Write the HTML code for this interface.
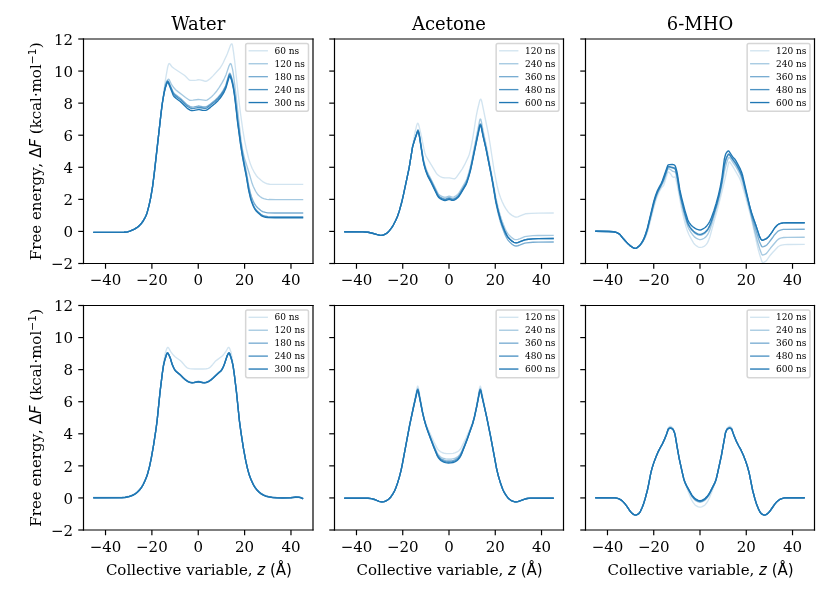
<!DOCTYPE html>
<html><head><meta charset="utf-8"><title>Free energy profiles</title>
<style>html,body{margin:0;padding:0;background:#fff;}svg{display:block;}</style>
</head><body>
<svg width="830" height="594" viewBox="0 0 553.333 396" version="1.1">
 
 <defs>
  <style type="text/css">*{stroke-linejoin: round; stroke-linecap: butt}</style>
 </defs>
 <g id="figure_1">
  <g id="patch_1">
   <path d="M 0 396 
L 553.333333 396 
L 553.333333 0 
L 0 0 
z
" style="fill: #ffffff"/>
  </g>
  <g id="axes_1">
   <g id="patch_2">
    <path d="M 55.666667 175.666667 
L 208.666667 175.666667 
L 208.666667 26 
L 55.666667 26 
z
" style="fill: #ffffff"/>
   </g>
   <g id="matplotlib.axis_1">
    <g id="xtick_1">
     <g id="line2d_1">
      <defs>
       <path id="m1504cfccaf" d="M 0 0 
L 0 3.5 
" style="stroke: #000000; stroke-width: 0.8"/>
      </defs>
      <g>
       <use href="#m1504cfccaf" x="70.348485" y="175.666667" style="stroke: #000000; stroke-width: 0.8"/>
      </g>
     </g>
     <g id="text_1">
      <text style="font-size: 10px; font-family: 'DejaVu Serif', serif; text-anchor: middle" x="70.348485" y="190.265104" transform="rotate(-0 70.348485 190.265104)">−40</text>
     </g>
    </g>
    <g id="xtick_2">
     <g id="line2d_2">
      <g>
       <use href="#m1504cfccaf" x="101.257576" y="175.666667" style="stroke: #000000; stroke-width: 0.8"/>
      </g>
     </g>
     <g id="text_2">
      <text style="font-size: 10px; font-family: 'DejaVu Serif', serif; text-anchor: middle" x="101.257576" y="190.265104" transform="rotate(-0 101.257576 190.265104)">−20</text>
     </g>
    </g>
    <g id="xtick_3">
     <g id="line2d_3">
      <g>
       <use href="#m1504cfccaf" x="132.166667" y="175.666667" style="stroke: #000000; stroke-width: 0.8"/>
      </g>
     </g>
     <g id="text_3">
      <text style="font-size: 10px; font-family: 'DejaVu Serif', serif; text-anchor: middle" x="132.166667" y="190.265104" transform="rotate(-0 132.166667 190.265104)">0</text>
     </g>
    </g>
    <g id="xtick_4">
     <g id="line2d_4">
      <g>
       <use href="#m1504cfccaf" x="163.075758" y="175.666667" style="stroke: #000000; stroke-width: 0.8"/>
      </g>
     </g>
     <g id="text_4">
      <text style="font-size: 10px; font-family: 'DejaVu Serif', serif; text-anchor: middle" x="163.075758" y="190.265104" transform="rotate(-0 163.075758 190.265104)">20</text>
     </g>
    </g>
    <g id="xtick_5">
     <g id="line2d_5">
      <g>
       <use href="#m1504cfccaf" x="193.984848" y="175.666667" style="stroke: #000000; stroke-width: 0.8"/>
      </g>
     </g>
     <g id="text_5">
      <text style="font-size: 10px; font-family: 'DejaVu Serif', serif; text-anchor: middle" x="193.984848" y="190.265104" transform="rotate(-0 193.984848 190.265104)">40</text>
     </g>
    </g>
   </g>
   <g id="matplotlib.axis_2">
    <g id="ytick_1">
     <g id="line2d_6">
      <defs>
       <path id="m5d545ce8f8" d="M 0 0 
L -3.5 0 
" style="stroke: #000000; stroke-width: 0.8"/>
      </defs>
      <g>
       <use href="#m5d545ce8f8" x="55.666667" y="175.666667" style="stroke: #000000; stroke-width: 0.8"/>
      </g>
     </g>
     <g id="text_6">
      <text style="font-size: 10px; font-family: 'DejaVu Serif', serif; text-anchor: end" x="48.666667" y="179.465885" transform="rotate(-0 48.666667 179.465885)">−2</text>
     </g>
    </g>
    <g id="ytick_2">
     <g id="line2d_7">
      <g>
       <use href="#m5d545ce8f8" x="55.666667" y="154.285714" style="stroke: #000000; stroke-width: 0.8"/>
      </g>
     </g>
     <g id="text_7">
      <text style="font-size: 10px; font-family: 'DejaVu Serif', serif; text-anchor: end" x="48.666667" y="158.084933" transform="rotate(-0 48.666667 158.084933)">0</text>
     </g>
    </g>
    <g id="ytick_3">
     <g id="line2d_8">
      <g>
       <use href="#m5d545ce8f8" x="55.666667" y="132.904762" style="stroke: #000000; stroke-width: 0.8"/>
      </g>
     </g>
     <g id="text_8">
      <text style="font-size: 10px; font-family: 'DejaVu Serif', serif; text-anchor: end" x="48.666667" y="136.703981" transform="rotate(-0 48.666667 136.703981)">2</text>
     </g>
    </g>
    <g id="ytick_4">
     <g id="line2d_9">
      <g>
       <use href="#m5d545ce8f8" x="55.666667" y="111.52381" style="stroke: #000000; stroke-width: 0.8"/>
      </g>
     </g>
     <g id="text_9">
      <text style="font-size: 10px; font-family: 'DejaVu Serif', serif; text-anchor: end" x="48.666667" y="115.323028" transform="rotate(-0 48.666667 115.323028)">4</text>
     </g>
    </g>
    <g id="ytick_5">
     <g id="line2d_10">
      <g>
       <use href="#m5d545ce8f8" x="55.666667" y="90.142857" style="stroke: #000000; stroke-width: 0.8"/>
      </g>
     </g>
     <g id="text_10">
      <text style="font-size: 10px; font-family: 'DejaVu Serif', serif; text-anchor: end" x="48.666667" y="93.942076" transform="rotate(-0 48.666667 93.942076)">6</text>
     </g>
    </g>
    <g id="ytick_6">
     <g id="line2d_11">
      <g>
       <use href="#m5d545ce8f8" x="55.666667" y="68.761905" style="stroke: #000000; stroke-width: 0.8"/>
      </g>
     </g>
     <g id="text_11">
      <text style="font-size: 10px; font-family: 'DejaVu Serif', serif; text-anchor: end" x="48.666667" y="72.561124" transform="rotate(-0 48.666667 72.561124)">8</text>
     </g>
    </g>
    <g id="ytick_7">
     <g id="line2d_12">
      <g>
       <use href="#m5d545ce8f8" x="55.666667" y="47.380952" style="stroke: #000000; stroke-width: 0.8"/>
      </g>
     </g>
     <g id="text_12">
      <text style="font-size: 10px; font-family: 'DejaVu Serif', serif; text-anchor: end" x="48.666667" y="51.180171" transform="rotate(-0 48.666667 51.180171)">10</text>
     </g>
    </g>
    <g id="ytick_8">
     <g id="line2d_13">
      <g>
       <use href="#m5d545ce8f8" x="55.666667" y="26" style="stroke: #000000; stroke-width: 0.8"/>
      </g>
     </g>
     <g id="text_13">
      <text style="font-size: 10px; font-family: 'DejaVu Serif', serif; text-anchor: end" x="48.666667" y="29.799219" transform="rotate(-0 48.666667 29.799219)">12</text>
     </g>
    </g>
    <g id="text_14">
     
     <g transform="translate(27.624479 173.433333) rotate(-90)">
      <text xml:space="preserve"><tspan x="0 6.938 11.719 17.637 23.555 26.733 32.651 39.092 45.01 49.79 56.191 61.841 65.02" y="-0.064063" style="font-size: 10px; font-family: 'DejaVu Serif', serif">Free energy, </tspan><tspan x="68.198" y="-0.064063" style="font-size: 10px; font-family: 'DejaVu Sans', sans-serif">Δ</tspan><tspan x="75.039" y="-0.064063" style="font-style: oblique; font-size: 10px; font-family: 'DejaVu Sans', sans-serif">F</tspan><tspan x="80.791 83.97 87.871 93.931 99.531 105.493" y="-0.064063" style="font-size: 10px; font-family: 'DejaVu Serif', serif"> (kcal</tspan><tspan x="108.691" y="-0.064063" style="font-size: 10px; font-family: 'DejaVu Sans', sans-serif">⋅</tspan><tspan x="111.87 121.353 127.373" y="-0.064063" style="font-size: 10px; font-family: 'DejaVu Serif', serif">mol</tspan><tspan x="130.667 136.532" y="-3.892188" style="font-size: 7px; font-family: 'DejaVu Sans', sans-serif">−1</tspan><tspan x="141.259" y="-0.064063" style="font-size: 10px; font-family: 'DejaVu Serif', serif">)</tspan></text>
     </g>
    </g>
   </g>
   <g id="line2d_14">
    <path d="M 62.621212 154.927143 
L 82.712121 154.846096 
L 85.030303 154.585223 
L 86.575758 154.082243 
L 89.666667 152.704985 
L 91.212121 151.781085 
L 92.757576 150.569904 
L 93.916667 149.366705 
L 95.075758 147.846963 
L 96.234848 145.969986 
L 97.393939 143.679801 
L 98.166667 141.461848 
L 99.325758 137.068708 
L 100.484848 131.784036 
L 101.643939 124.978594 
L 102.80303 115.955976 
L 105.121212 95.390537 
L 107.05303 78.639843 
L 110.143939 54.038081 
L 111.689394 45.18803 
L 112.075758 43.614864 
L 112.462121 42.622437 
L 112.848485 42.364097 
L 113.234848 42.602342 
L 114.007576 43.676119 
L 114.780303 44.708333 
L 116.325758 45.870653 
L 122.893939 50.160476 
L 123.666667 50.875036 
L 125.984848 53.244251 
L 126.757576 53.570986 
L 129.848485 53.581429 
L 131.007576 53.387638 
L 132.166667 53.158612 
L 133.325758 53.243223 
L 135.257576 53.665134 
L 136.80303 54.195355 
L 137.575758 54.147965 
L 138.348485 53.762122 
L 140.280303 52.291527 
L 141.825758 50.73423 
L 146.462121 45.67213 
L 147.621212 43.981809 
L 148.780303 41.817797 
L 151.484848 35.980766 
L 153.80303 29.906611 
L 154.189394 29.393515 
L 154.575758 29.207143 
L 154.962121 30.092293 
L 155.734848 35.043038 
L 156.507576 41.15511 
L 158.825758 63.294032 
L 160.371212 75.969893 
L 161.916667 86.947123 
L 163.075758 93.741513 
L 164.234848 99.311575 
L 165.780303 105.606315 
L 166.939394 109.385714 
L 168.098485 112.172347 
L 169.643939 115.149661 
L 170.80303 116.975952 
L 171.962121 118.287651 
L 173.893939 120.057662 
L 175.439394 121.277853 
L 176.984848 122.095012 
L 178.143939 122.490981 
L 179.689394 122.819177 
L 182.007576 122.945476 
L 187.030303 122.962619 
L 201.712121 122.962619 
L 201.712121 122.962619 
" clip-path="url(#p83b6f65d9d)" style="fill: none; stroke: #1f77b4; stroke-opacity: 0.2; stroke-width: 0.9; stroke-linecap: square"/>
   </g>
   <g id="line2d_15">
    <path d="M 62.621212 154.927143 
L 82.712121 154.846096 
L 85.030303 154.585223 
L 86.575758 154.082243 
L 89.666667 152.704985 
L 91.212121 151.781085 
L 92.757576 150.569904 
L 93.916667 149.366705 
L 95.075758 147.846963 
L 96.234848 145.969986 
L 97.393939 143.679801 
L 98.166667 141.461848 
L 99.325758 137.068708 
L 100.484848 131.784036 
L 101.643939 124.978594 
L 102.80303 115.955976 
L 105.121212 95.390537 
L 107.439394 75.05411 
L 108.598485 66.317952 
L 109.757576 58.599848 
L 110.143939 56.661487 
L 110.530303 55.39881 
L 111.30303 53.853093 
L 111.689394 53.284988 
L 112.075758 52.928356 
L 112.462121 52.844553 
L 112.848485 53.201792 
L 113.621212 54.832257 
L 114.393939 56.467857 
L 115.939394 58.552278 
L 117.098485 59.79195 
L 118.643939 61.070335 
L 121.348485 63.199342 
L 123.666667 65.020238 
L 126.371212 66.853045 
L 127.143939 66.94109 
L 128.689394 66.782285 
L 132.166667 66.304636 
L 133.325758 66.37587 
L 137.189394 66.942641 
L 137.962121 66.740037 
L 138.734848 66.284472 
L 141.05303 64.455729 
L 142.598485 62.923304 
L 144.530303 60.635 
L 146.075758 58.43942 
L 148.007576 55.290338 
L 149.55303 52.388375 
L 150.712121 49.765699 
L 152.643939 44.0232 
L 153.416667 42.618807 
L 153.80303 42.356429 
L 154.189394 42.913268 
L 154.962121 45.972473 
L 155.348485 47.926092 
L 156.121212 53.508311 
L 157.280303 63.171139 
L 160.757576 94.419048 
L 161.916667 101.009477 
L 163.075758 105.755707 
L 164.621212 110.703328 
L 166.166667 115.6907 
L 168.098485 122.388323 
L 168.871212 124.347184 
L 170.416667 127.506361 
L 171.575758 129.310753 
L 172.348485 130.168732 
L 173.507576 131.175956 
L 174.666667 131.929697 
L 175.825758 132.390115 
L 177.757576 132.888206 
L 179.30303 133.032046 
L 183.939394 133.118571 
L 201.712121 133.118571 
L 201.712121 133.118571 
" clip-path="url(#p83b6f65d9d)" style="fill: none; stroke: #1f77b4; stroke-opacity: 0.4; stroke-width: 0.9; stroke-linecap: square"/>
   </g>
   <g id="line2d_16">
    <path d="M 62.621212 154.927143 
L 82.712121 154.846096 
L 85.030303 154.585223 
L 86.575758 154.082243 
L 89.666667 152.704985 
L 91.212121 151.781085 
L 92.757576 150.569904 
L 93.916667 149.366705 
L 95.075758 147.846963 
L 96.234848 145.969986 
L 97.393939 143.679801 
L 98.166667 141.461848 
L 99.325758 137.068708 
L 100.484848 131.784036 
L 101.643939 124.978594 
L 102.80303 115.955976 
L 105.121212 95.390537 
L 107.439394 74.820139 
L 108.212121 68.83233 
L 109.371212 62.090828 
L 110.143939 58.558228 
L 111.30303 54.553908 
L 111.689394 53.955508 
L 112.075758 54.041919 
L 112.462121 54.669966 
L 115.55303 61.72559 
L 116.712121 62.912807 
L 118.643939 64.415646 
L 120.189394 65.463078 
L 121.734848 66.920983 
L 124.825758 69.930929 
L 126.757576 71.047977 
L 127.530303 71.338179 
L 128.30303 71.445704 
L 129.462121 71.28017 
L 132.166667 70.691276 
L 132.939394 70.763212 
L 134.871212 71.150352 
L 137.189394 71.252758 
L 137.962121 70.976538 
L 140.280303 69.290705 
L 143.371212 66.776412 
L 145.30303 64.941065 
L 146.848485 63.17681 
L 148.393939 60.98251 
L 149.55303 58.962961 
L 150.325758 57.308076 
L 150.712121 56.324082 
L 152.643939 49.626315 
L 153.030303 48.854719 
L 153.416667 48.954743 
L 154.189394 50.905023 
L 154.962121 53.786834 
L 155.734848 57.760032 
L 156.507576 62.91491 
L 157.280303 69.384505 
L 158.439394 79.734362 
L 160.371212 93.998179 
L 161.530303 101.173761 
L 163.075758 109.059346 
L 164.234848 114.697344 
L 165.780303 123.694383 
L 166.939394 128.753552 
L 167.712121 131.30119 
L 168.871212 134.281801 
L 169.643939 135.840033 
L 170.80303 137.471675 
L 171.962121 138.679462 
L 173.893939 140.352758 
L 175.05303 141.049339 
L 176.984848 141.626482 
L 178.530303 141.869142 
L 183.166667 141.97403 
L 194.757576 141.991667 
L 201.712121 141.991667 
L 201.712121 141.991667 
" clip-path="url(#p83b6f65d9d)" style="fill: none; stroke: #1f77b4; stroke-opacity: 0.6; stroke-width: 0.9; stroke-linecap: square"/>
   </g>
   <g id="line2d_17">
    <path d="M 62.621212 154.927143 
L 82.712121 154.846096 
L 85.030303 154.585223 
L 86.575758 154.082243 
L 89.666667 152.704985 
L 91.212121 151.781085 
L 92.757576 150.569904 
L 93.916667 149.366705 
L 95.075758 147.846963 
L 96.234848 145.969986 
L 97.393939 143.679801 
L 98.166667 141.461848 
L 99.325758 137.068708 
L 100.484848 131.784036 
L 101.643939 124.978594 
L 102.80303 115.955976 
L 105.121212 95.390537 
L 107.439394 74.820139 
L 108.212121 68.83233 
L 109.371212 62.105951 
L 110.143939 58.670023 
L 111.30303 54.855232 
L 111.689394 54.303723 
L 112.075758 54.438053 
L 112.462121 55.115844 
L 115.55303 62.526749 
L 116.712121 63.768045 
L 118.643939 65.297929 
L 120.575758 66.697052 
L 122.893939 69.003088 
L 124.439394 70.578403 
L 125.598485 71.35167 
L 127.143939 72.164345 
L 127.916667 72.373875 
L 128.689394 72.379407 
L 130.234848 72.052119 
L 132.55303 71.660552 
L 136.030303 72.168646 
L 137.189394 72.192056 
L 137.962121 71.909406 
L 140.280303 70.202168 
L 143.371212 67.65894 
L 145.30303 65.808408 
L 146.848485 64.035159 
L 148.393939 61.836601 
L 149.55303 59.822219 
L 150.325758 58.176755 
L 150.712121 57.199619 
L 152.643939 50.56237 
L 153.030303 49.808952 
L 153.416667 49.93068 
L 154.189394 51.947468 
L 154.962121 54.91836 
L 155.734848 58.991462 
L 156.507576 64.245315 
L 157.280303 70.801206 
L 158.439394 81.231028 
L 160.371212 95.698694 
L 161.530303 103.084425 
L 163.075758 111.273884 
L 164.234848 117.10829 
L 165.780303 126.252968 
L 166.939394 131.319266 
L 167.712121 133.866905 
L 168.871212 136.847516 
L 169.643939 138.405747 
L 170.80303 140.037389 
L 171.962121 141.245177 
L 173.893939 142.918473 
L 175.05303 143.615053 
L 176.984848 144.192197 
L 178.530303 144.434856 
L 183.166667 144.539744 
L 194.757576 144.557381 
L 201.712121 144.557381 
L 201.712121 144.557381 
" clip-path="url(#p83b6f65d9d)" style="fill: none; stroke: #1f77b4; stroke-opacity: 0.8; stroke-width: 0.9; stroke-linecap: square"/>
   </g>
   <g id="line2d_18">
    <path d="M 62.621212 154.927143 
L 82.712121 154.846096 
L 85.030303 154.585223 
L 86.575758 154.082243 
L 89.666667 152.704985 
L 91.212121 151.781085 
L 92.757576 150.569904 
L 93.916667 149.366705 
L 95.075758 147.846963 
L 96.234848 145.969986 
L 97.393939 143.679801 
L 98.166667 141.461848 
L 99.325758 137.068708 
L 100.484848 131.784036 
L 101.643939 124.978594 
L 102.80303 115.955976 
L 105.121212 95.390537 
L 107.439394 74.820139 
L 108.212121 68.83233 
L 109.371212 62.132055 
L 110.143939 58.861445 
L 111.30303 55.35984 
L 111.689394 54.879627 
L 112.075758 55.084949 
L 112.462121 55.83525 
L 115.55303 63.740598 
L 116.325758 64.673277 
L 117.484848 65.710601 
L 119.030303 66.866618 
L 120.189394 67.692857 
L 121.734848 69.182367 
L 124.825758 72.240109 
L 126.757576 73.377399 
L 127.530303 73.673775 
L 128.30303 73.786429 
L 129.462121 73.626703 
L 132.166667 73.043181 
L 132.939394 73.114172 
L 134.871212 73.491351 
L 137.189394 73.569781 
L 137.962121 73.283216 
L 140.280303 71.561096 
L 143.371212 68.991 
L 145.30303 67.119799 
L 146.848485 65.327968 
L 148.393939 63.105532 
L 149.55303 61.057751 
L 150.325758 59.383154 
L 150.712121 58.389773 
L 152.643939 51.659556 
L 153.030303 50.886083 
L 153.416667 50.986208 
L 154.189394 52.941179 
L 154.962121 55.832966 
L 155.734848 59.820741 
L 156.507576 64.994114 
L 157.280303 71.485438 
L 158.439394 81.872457 
L 160.371212 96.340122 
L 161.530303 103.725854 
L 163.075758 111.915312 
L 164.234848 117.749718 
L 165.780303 126.894397 
L 166.939394 131.960695 
L 167.712121 134.508333 
L 168.871212 137.488944 
L 169.643939 139.047176 
L 170.80303 140.678818 
L 171.962121 141.886605 
L 173.893939 143.559901 
L 175.05303 144.256482 
L 176.984848 144.833625 
L 178.530303 145.076285 
L 183.166667 145.181173 
L 194.757576 145.19881 
L 201.712121 145.19881 
L 201.712121 145.19881 
" clip-path="url(#p83b6f65d9d)" style="fill: none; stroke: #1f77b4; stroke-width: 0.9; stroke-linecap: square"/>
   </g>
   <g id="patch_3">
    <path d="M 55.666667 175.666667 
L 55.666667 26 
" style="fill: none; stroke: #000000; stroke-width: 0.8; stroke-linejoin: miter; stroke-linecap: square"/>
   </g>
   <g id="patch_4">
    <path d="M 208.666667 175.666667 
L 208.666667 26 
" style="fill: none; stroke: #000000; stroke-width: 0.8; stroke-linejoin: miter; stroke-linecap: square"/>
   </g>
   <g id="patch_5">
    <path d="M 55.666667 175.666667 
L 208.666667 175.666667 
" style="fill: none; stroke: #000000; stroke-width: 0.8; stroke-linejoin: miter; stroke-linecap: square"/>
   </g>
   <g id="patch_6">
    <path d="M 55.666667 26 
L 208.666667 26 
" style="fill: none; stroke: #000000; stroke-width: 0.8; stroke-linejoin: miter; stroke-linecap: square"/>
   </g>
   <g id="text_15">
    <text style="font-size: 12px; font-family: 'DejaVu Serif', serif; text-anchor: middle" x="132.166667" y="20" transform="rotate(-0 132.166667 20)">Water</text>
   </g>
   <g id="legend_1">
    <g id="patch_7">
     <path d="M 164.964167 74.114375 
L 204.466667 74.114375 
Q 205.666667 74.114375 205.666667 72.914375 
L 205.666667 30.2 
Q 205.666667 29 204.466667 29 
L 164.964167 29 
Q 163.764167 29 163.764167 30.2 
L 163.764167 72.914375 
Q 163.764167 74.114375 164.964167 74.114375 
z
" style="fill: #ffffff; opacity: 0.8; stroke: #cccccc; stroke-linejoin: miter"/>
    </g>
    <g id="line2d_19">
     <path d="M 166.164167 33.859063 
L 172.164167 33.859063 
L 178.164167 33.859063 
" style="fill: none; stroke: #1f77b4; stroke-opacity: 0.2; stroke-width: 0.9; stroke-linecap: square"/>
    </g>
    <g id="text_16">
     <text style="font-size: 6px; font-family: 'DejaVu Serif', serif; text-anchor: start" x="182.964167" y="35.959063" transform="rotate(-0 182.964167 35.959063)">60 ns</text>
    </g>
    <g id="line2d_20">
     <path d="M 166.164167 42.485937 
L 172.164167 42.485937 
L 178.164167 42.485937 
" style="fill: none; stroke: #1f77b4; stroke-opacity: 0.4; stroke-width: 0.9; stroke-linecap: square"/>
    </g>
    <g id="text_17">
     <text style="font-size: 6px; font-family: 'DejaVu Serif', serif; text-anchor: start" x="182.964167" y="44.585938" transform="rotate(-0 182.964167 44.585938)">120 ns</text>
    </g>
    <g id="line2d_21">
     <path d="M 166.164167 51.112813 
L 172.164167 51.112813 
L 178.164167 51.112813 
" style="fill: none; stroke: #1f77b4; stroke-opacity: 0.6; stroke-width: 0.9; stroke-linecap: square"/>
    </g>
    <g id="text_18">
     <text style="font-size: 6px; font-family: 'DejaVu Serif', serif; text-anchor: start" x="182.964167" y="53.212813" transform="rotate(-0 182.964167 53.212813)">180 ns</text>
    </g>
    <g id="line2d_22">
     <path d="M 166.164167 59.739688 
L 172.164167 59.739688 
L 178.164167 59.739688 
" style="fill: none; stroke: #1f77b4; stroke-opacity: 0.8; stroke-width: 0.9; stroke-linecap: square"/>
    </g>
    <g id="text_19">
     <text style="font-size: 6px; font-family: 'DejaVu Serif', serif; text-anchor: start" x="182.964167" y="61.839688" transform="rotate(-0 182.964167 61.839688)">240 ns</text>
    </g>
    <g id="line2d_23">
     <path d="M 166.164167 68.366563 
L 172.164167 68.366563 
L 178.164167 68.366563 
" style="fill: none; stroke: #1f77b4; stroke-width: 0.9; stroke-linecap: square"/>
    </g>
    <g id="text_20">
     <text style="font-size: 6px; font-family: 'DejaVu Serif', serif; text-anchor: start" x="182.964167" y="70.466563" transform="rotate(-0 182.964167 70.466563)">300 ns</text>
    </g>
   </g>
  </g>
  <g id="axes_2">
   <g id="patch_8">
    <path d="M 223 175.666667 
L 375.666667 175.666667 
L 375.666667 26 
L 223 26 
z
" style="fill: #ffffff"/>
   </g>
   <g id="matplotlib.axis_3">
    <g id="xtick_6">
     <g id="line2d_24">
      <g>
       <use href="#m1504cfccaf" x="237.649832" y="175.666667" style="stroke: #000000; stroke-width: 0.8"/>
      </g>
     </g>
     <g id="text_21">
      <text style="font-size: 10px; font-family: 'DejaVu Serif', serif; text-anchor: middle" x="237.649832" y="190.265104" transform="rotate(-0 237.649832 190.265104)">−40</text>
     </g>
    </g>
    <g id="xtick_7">
     <g id="line2d_25">
      <g>
       <use href="#m1504cfccaf" x="268.491582" y="175.666667" style="stroke: #000000; stroke-width: 0.8"/>
      </g>
     </g>
     <g id="text_22">
      <text style="font-size: 10px; font-family: 'DejaVu Serif', serif; text-anchor: middle" x="268.491582" y="190.265104" transform="rotate(-0 268.491582 190.265104)">−20</text>
     </g>
    </g>
    <g id="xtick_8">
     <g id="line2d_26">
      <g>
       <use href="#m1504cfccaf" x="299.333333" y="175.666667" style="stroke: #000000; stroke-width: 0.8"/>
      </g>
     </g>
     <g id="text_23">
      <text style="font-size: 10px; font-family: 'DejaVu Serif', serif; text-anchor: middle" x="299.333333" y="190.265104" transform="rotate(-0 299.333333 190.265104)">0</text>
     </g>
    </g>
    <g id="xtick_9">
     <g id="line2d_27">
      <g>
       <use href="#m1504cfccaf" x="330.175084" y="175.666667" style="stroke: #000000; stroke-width: 0.8"/>
      </g>
     </g>
     <g id="text_24">
      <text style="font-size: 10px; font-family: 'DejaVu Serif', serif; text-anchor: middle" x="330.175084" y="190.265104" transform="rotate(-0 330.175084 190.265104)">20</text>
     </g>
    </g>
    <g id="xtick_10">
     <g id="line2d_28">
      <g>
       <use href="#m1504cfccaf" x="361.016835" y="175.666667" style="stroke: #000000; stroke-width: 0.8"/>
      </g>
     </g>
     <g id="text_25">
      <text style="font-size: 10px; font-family: 'DejaVu Serif', serif; text-anchor: middle" x="361.016835" y="190.265104" transform="rotate(-0 361.016835 190.265104)">40</text>
     </g>
    </g>
   </g>
   <g id="matplotlib.axis_4">
    <g id="ytick_9">
     <g id="line2d_29">
      <g>
       <use href="#m5d545ce8f8" x="223" y="175.666667" style="stroke: #000000; stroke-width: 0.8"/>
      </g>
     </g>
    </g>
    <g id="ytick_10">
     <g id="line2d_30">
      <g>
       <use href="#m5d545ce8f8" x="223" y="154.285714" style="stroke: #000000; stroke-width: 0.8"/>
      </g>
     </g>
    </g>
    <g id="ytick_11">
     <g id="line2d_31">
      <g>
       <use href="#m5d545ce8f8" x="223" y="132.904762" style="stroke: #000000; stroke-width: 0.8"/>
      </g>
     </g>
    </g>
    <g id="ytick_12">
     <g id="line2d_32">
      <g>
       <use href="#m5d545ce8f8" x="223" y="111.52381" style="stroke: #000000; stroke-width: 0.8"/>
      </g>
     </g>
    </g>
    <g id="ytick_13">
     <g id="line2d_33">
      <g>
       <use href="#m5d545ce8f8" x="223" y="90.142857" style="stroke: #000000; stroke-width: 0.8"/>
      </g>
     </g>
    </g>
    <g id="ytick_14">
     <g id="line2d_34">
      <g>
       <use href="#m5d545ce8f8" x="223" y="68.761905" style="stroke: #000000; stroke-width: 0.8"/>
      </g>
     </g>
    </g>
    <g id="ytick_15">
     <g id="line2d_35">
      <g>
       <use href="#m5d545ce8f8" x="223" y="47.380952" style="stroke: #000000; stroke-width: 0.8"/>
      </g>
     </g>
    </g>
    <g id="ytick_16">
     <g id="line2d_36">
      <g>
       <use href="#m5d545ce8f8" x="223" y="26" style="stroke: #000000; stroke-width: 0.8"/>
      </g>
     </g>
    </g>
   </g>
   <g id="line2d_37">
    <path d="M 229.939394 154.499524 
L 241.890572 154.59947 
L 245.360269 154.845356 
L 247.673401 155.323724 
L 251.52862 156.359277 
L 253.456229 156.901008 
L 254.227273 156.957341 
L 254.998316 156.847273 
L 256.154882 156.413498 
L 257.69697 155.568571 
L 258.468013 154.992634 
L 259.624579 153.758739 
L 261.166667 151.730127 
L 262.323232 149.863231 
L 263.86532 146.861635 
L 265.021886 144.198376 
L 266.178451 140.757032 
L 267.720539 135.201566 
L 268.877104 130.228874 
L 272.732323 112.058669 
L 275.045455 97.531048 
L 276.587542 88.635728 
L 277.744108 83.772433 
L 278.12963 82.592452 
L 278.515152 82.125 
L 278.900673 82.60215 
L 279.286195 83.798292 
L 280.442761 88.592586 
L 283.141414 101.663151 
L 283.912458 103.790146 
L 284.683502 105.313879 
L 290.851852 115.44725 
L 291.622896 116.396697 
L 292.393939 117.029364 
L 293.936027 117.991811 
L 295.092593 118.417502 
L 296.249158 118.472619 
L 299.718855 118.558912 
L 302.80303 119.220133 
L 303.188552 119.15644 
L 303.574074 118.916158 
L 304.345118 118.05685 
L 308.200337 112.53496 
L 309.742424 109.795478 
L 312.055556 104.930693 
L 312.826599 102.952523 
L 313.597643 100.041801 
L 314.754209 94.507525 
L 315.910774 87.390467 
L 317.452862 77.603078 
L 318.223906 73.6867 
L 319.765993 67.229133 
L 320.151515 66.334651 
L 320.537037 66.111321 
L 320.922559 66.812934 
L 321.308081 68.287498 
L 324.006734 81.497527 
L 325.548822 89.132588 
L 326.705387 95.859772 
L 329.40404 113.661905 
L 331.33165 123.458361 
L 332.488215 128.153311 
L 333.644781 131.623751 
L 334.801347 134.516157 
L 335.957912 136.928714 
L 337.114478 138.923211 
L 338.656566 141.166559 
L 339.813131 142.431584 
L 341.355219 143.554818 
L 342.897306 144.432842 
L 343.66835 144.689703 
L 344.439394 144.769791 
L 345.210438 144.624542 
L 347.138047 143.809048 
L 350.222222 142.52619 
L 354.077441 142.223335 
L 359.089226 142.079033 
L 368.727273 141.991667 
L 368.727273 141.991667 
" clip-path="url(#p31d2f5e6c3)" style="fill: none; stroke: #1f77b4; stroke-opacity: 0.2; stroke-width: 0.9; stroke-linecap: square"/>
   </g>
   <g id="line2d_38">
    <path d="M 229.939394 154.499524 
L 241.890572 154.59947 
L 245.360269 154.845356 
L 247.673401 155.323724 
L 251.52862 156.359277 
L 253.456229 156.901008 
L 254.227273 156.957341 
L 254.998316 156.847273 
L 256.154882 156.413498 
L 257.69697 155.568571 
L 258.468013 154.992634 
L 259.624579 153.758739 
L 261.166667 151.730127 
L 262.323232 149.863231 
L 263.86532 146.861635 
L 265.021886 144.198376 
L 266.178451 140.757032 
L 267.720539 135.201566 
L 268.877104 130.228874 
L 272.732323 112.02686 
L 275.045455 97.926131 
L 276.20202 93.742118 
L 278.515152 86.429168 
L 278.900673 86.617869 
L 279.671717 90.059893 
L 282.37037 106.592908 
L 283.526936 110.91639 
L 284.683502 114.196429 
L 285.840067 116.593973 
L 287.382155 119.483577 
L 291.622896 128.271991 
L 292.393939 129.438201 
L 293.164983 130.075615 
L 294.707071 130.994005 
L 295.863636 131.413535 
L 296.63468 131.514116 
L 297.405724 131.398073 
L 299.333333 130.773339 
L 300.104377 130.913178 
L 301.260943 131.440505 
L 302.031987 131.460887 
L 302.80303 131.214294 
L 303.959596 130.529265 
L 305.116162 129.644 
L 305.887205 128.765514 
L 307.043771 126.929321 
L 310.513468 120.969359 
L 311.284512 119.097676 
L 312.441077 115.490177 
L 313.597643 111.185338 
L 314.368687 107.633671 
L 319.765993 80.251086 
L 320.151515 79.332814 
L 320.537037 79.552727 
L 320.922559 81.045388 
L 322.079125 87.291674 
L 324.392256 98.222544 
L 329.40404 125.175702 
L 330.560606 131.823162 
L 332.102694 138.553635 
L 333.644781 144.210264 
L 334.801347 147.676715 
L 336.728956 152.457629 
L 337.885522 154.793112 
L 338.656566 155.987325 
L 339.813131 157.231111 
L 341.355219 158.625497 
L 342.511785 159.375547 
L 343.282828 159.66216 
L 344.053872 159.73507 
L 345.210438 159.557717 
L 346.752525 159.018787 
L 349.8367 157.786539 
L 350.993266 157.564673 
L 355.234007 157.113506 
L 358.703704 156.98378 
L 368.727273 156.958333 
L 368.727273 156.958333 
" clip-path="url(#p31d2f5e6c3)" style="fill: none; stroke: #1f77b4; stroke-opacity: 0.4; stroke-width: 0.9; stroke-linecap: square"/>
   </g>
   <g id="line2d_39">
    <path d="M 229.939394 154.499524 
L 241.890572 154.59947 
L 245.360269 154.845356 
L 247.673401 155.323724 
L 251.52862 156.359277 
L 253.456229 156.901008 
L 254.227273 156.957341 
L 254.998316 156.847273 
L 256.154882 156.413498 
L 257.69697 155.568571 
L 258.468013 154.992634 
L 259.624579 153.758739 
L 261.166667 151.730127 
L 262.323232 149.863231 
L 263.86532 146.861635 
L 265.021886 144.198376 
L 266.178451 140.757032 
L 267.720539 135.201566 
L 268.877104 130.228874 
L 272.732323 112.02686 
L 275.045455 97.936112 
L 276.20202 93.876086 
L 278.515152 86.944809 
L 278.900673 87.179988 
L 279.671717 90.721772 
L 281.984848 105.588428 
L 282.755892 109.211109 
L 283.912458 113.180919 
L 285.069024 116.152125 
L 286.225589 118.353403 
L 287.382155 120.552624 
L 291.622896 129.341039 
L 292.393939 130.507249 
L 293.164983 131.144663 
L 294.707071 132.063053 
L 295.863636 132.482583 
L 296.63468 132.583164 
L 297.405724 132.467121 
L 299.333333 131.842387 
L 300.104377 131.984072 
L 301.260943 132.520982 
L 302.031987 132.552194 
L 302.80303 132.319905 
L 303.959596 131.662689 
L 305.116162 130.812662 
L 305.887205 129.961678 
L 307.043771 128.172577 
L 310.513468 122.393762 
L 311.284512 120.570011 
L 312.441077 117.039342 
L 313.597643 112.828606 
L 314.754209 107.518359 
L 317.06734 96.282397 
L 319.765993 83.453315 
L 320.151515 82.538393 
L 320.537037 82.741721 
L 320.922559 84.202155 
L 322.079125 90.288754 
L 324.006734 98.940127 
L 327.861953 118.998825 
L 329.018519 125.888351 
L 330.560606 135.229026 
L 332.102694 142.179622 
L 333.644781 147.980598 
L 334.801347 151.527764 
L 336.728956 156.426287 
L 337.885522 158.822699 
L 338.656566 160.053712 
L 339.813131 161.347201 
L 341.355219 162.798089 
L 342.511785 163.583598 
L 343.282828 163.890731 
L 344.053872 163.981776 
L 345.210438 163.827355 
L 346.752525 163.313195 
L 349.8367 162.123167 
L 350.993266 161.914719 
L 355.234007 161.501283 
L 358.703704 161.388769 
L 368.727273 161.341429 
L 368.727273 161.341429 
" clip-path="url(#p31d2f5e6c3)" style="fill: none; stroke: #1f77b4; stroke-opacity: 0.6; stroke-width: 0.9; stroke-linecap: square"/>
   </g>
   <g id="line2d_40">
    <path d="M 229.939394 154.499524 
L 241.890572 154.59947 
L 245.360269 154.845356 
L 247.673401 155.323724 
L 251.52862 156.359277 
L 253.456229 156.901008 
L 254.227273 156.957341 
L 254.998316 156.847273 
L 256.154882 156.413498 
L 257.69697 155.568571 
L 258.468013 154.992634 
L 259.624579 153.758739 
L 261.166667 151.730127 
L 262.323232 149.863231 
L 263.86532 146.861635 
L 265.021886 144.198376 
L 266.178451 140.757032 
L 267.720539 135.201566 
L 268.877104 130.228874 
L 272.732323 112.02686 
L 275.045455 97.943387 
L 276.20202 93.970459 
L 278.515152 87.259385 
L 278.900673 87.508175 
L 279.671717 91.083058 
L 281.984848 106.071349 
L 282.755892 109.725159 
L 283.912458 113.715443 
L 285.069024 116.686648 
L 286.225589 118.887927 
L 287.382155 121.087148 
L 291.622896 129.875562 
L 292.393939 131.041773 
L 293.164983 131.679187 
L 294.707071 132.597577 
L 295.863636 133.017107 
L 296.63468 133.117688 
L 297.405724 133.001644 
L 299.333333 132.37691 
L 300.104377 132.518596 
L 301.260943 133.055506 
L 302.031987 133.086718 
L 302.80303 132.854428 
L 303.959596 132.197213 
L 305.116162 131.347186 
L 305.887205 130.496202 
L 307.043771 128.7071 
L 310.513468 122.928286 
L 311.284512 121.104535 
L 312.441077 117.573866 
L 313.597643 113.36313 
L 314.754209 108.052883 
L 317.06734 96.816921 
L 319.765993 83.987838 
L 320.151515 83.071534 
L 320.537037 83.259933 
L 320.922559 84.690577 
L 322.079125 90.617774 
L 324.006734 98.884785 
L 327.476431 116.304806 
L 328.632997 122.55464 
L 330.560606 133.983458 
L 332.102694 140.695661 
L 333.644781 146.348359 
L 334.801347 149.81481 
L 336.728956 154.595725 
L 337.885522 156.931207 
L 338.656566 158.12542 
L 339.813131 159.369206 
L 341.355219 160.763592 
L 342.511785 161.513642 
L 343.282828 161.800255 
L 344.053872 161.873166 
L 345.210438 161.695812 
L 346.752525 161.156526 
L 349.8367 159.92002 
L 350.993266 159.695395 
L 355.234007 159.229275 
L 358.703704 159.082373 
L 368.727273 158.989524 
L 368.727273 158.989524 
" clip-path="url(#p31d2f5e6c3)" style="fill: none; stroke: #1f77b4; stroke-opacity: 0.8; stroke-width: 0.9; stroke-linecap: square"/>
   </g>
   <g id="line2d_41">
    <path d="M 229.939394 154.499524 
L 241.890572 154.59947 
L 245.360269 154.845356 
L 247.673401 155.323724 
L 251.52862 156.359277 
L 253.456229 156.901008 
L 254.227273 156.957341 
L 254.998316 156.847273 
L 256.154882 156.413498 
L 257.69697 155.568571 
L 258.468013 154.992634 
L 259.624579 153.758739 
L 261.166667 151.730127 
L 262.323232 149.863231 
L 263.86532 146.861635 
L 265.021886 144.198376 
L 266.178451 140.757032 
L 267.720539 135.201566 
L 268.877104 130.228874 
L 272.732323 112.02686 
L 275.045455 97.946093 
L 276.20202 94.010053 
L 278.12963 88.267819 
L 278.515152 87.46045 
L 278.900673 87.742106 
L 279.671717 91.38365 
L 281.984848 106.54594 
L 282.755892 110.236714 
L 283.912458 114.249967 
L 285.069024 117.221172 
L 286.225589 119.422451 
L 287.382155 121.621672 
L 291.622896 130.410086 
L 292.393939 131.576297 
L 293.164983 132.213711 
L 294.707071 133.132101 
L 295.863636 133.551631 
L 296.63468 133.652211 
L 297.405724 133.536168 
L 299.333333 132.911434 
L 300.104377 133.05312 
L 301.260943 133.59003 
L 302.031987 133.621242 
L 302.80303 133.388952 
L 303.959596 132.731737 
L 305.116162 131.88171 
L 305.887205 131.030726 
L 307.043771 129.241624 
L 310.513468 123.462809 
L 311.284512 121.639058 
L 312.441077 118.10839 
L 313.597643 113.897653 
L 314.754209 108.587407 
L 317.06734 97.351444 
L 319.765993 84.522362 
L 320.151515 83.605843 
L 320.537037 83.791872 
L 320.922559 85.217659 
L 322.079125 91.116918 
L 324.006734 99.302282 
L 327.476431 116.52107 
L 328.632997 122.704395 
L 330.560606 134.040851 
L 332.102694 140.707147 
L 333.644781 146.348359 
L 334.801347 149.81481 
L 336.728956 154.595725 
L 337.885522 156.931207 
L 338.656566 158.12542 
L 339.813131 159.369206 
L 341.355219 160.763592 
L 342.511785 161.513642 
L 343.282828 161.800255 
L 344.053872 161.873166 
L 345.210438 161.695812 
L 346.752525 161.156526 
L 349.8367 159.92002 
L 350.993266 159.695395 
L 355.234007 159.229275 
L 358.703704 159.082373 
L 368.727273 158.989524 
L 368.727273 158.989524 
" clip-path="url(#p31d2f5e6c3)" style="fill: none; stroke: #1f77b4; stroke-width: 0.9; stroke-linecap: square"/>
   </g>
   <g id="patch_9">
    <path d="M 223 175.666667 
L 223 26 
" style="fill: none; stroke: #000000; stroke-width: 0.8; stroke-linejoin: miter; stroke-linecap: square"/>
   </g>
   <g id="patch_10">
    <path d="M 375.666667 175.666667 
L 375.666667 26 
" style="fill: none; stroke: #000000; stroke-width: 0.8; stroke-linejoin: miter; stroke-linecap: square"/>
   </g>
   <g id="patch_11">
    <path d="M 223 175.666667 
L 375.666667 175.666667 
" style="fill: none; stroke: #000000; stroke-width: 0.8; stroke-linejoin: miter; stroke-linecap: square"/>
   </g>
   <g id="patch_12">
    <path d="M 223 26 
L 375.666667 26 
" style="fill: none; stroke: #000000; stroke-width: 0.8; stroke-linejoin: miter; stroke-linecap: square"/>
   </g>
   <g id="text_26">
    <text style="font-size: 12px; font-family: 'DejaVu Serif', serif; text-anchor: middle" x="299.333333" y="20" transform="rotate(-0 299.333333 20)">Acetone</text>
   </g>
   <g id="legend_2">
    <g id="patch_13">
     <path d="M 331.964167 74.114375 
L 371.466667 74.114375 
Q 372.666667 74.114375 372.666667 72.914375 
L 372.666667 30.2 
Q 372.666667 29 371.466667 29 
L 331.964167 29 
Q 330.764167 29 330.764167 30.2 
L 330.764167 72.914375 
Q 330.764167 74.114375 331.964167 74.114375 
z
" style="fill: #ffffff; opacity: 0.8; stroke: #cccccc; stroke-linejoin: miter"/>
    </g>
    <g id="line2d_42">
     <path d="M 333.164167 33.859063 
L 339.164167 33.859063 
L 345.164167 33.859063 
" style="fill: none; stroke: #1f77b4; stroke-opacity: 0.2; stroke-width: 0.9; stroke-linecap: square"/>
    </g>
    <g id="text_27">
     <text style="font-size: 6px; font-family: 'DejaVu Serif', serif; text-anchor: start" x="349.964167" y="35.959063" transform="rotate(-0 349.964167 35.959063)">120 ns</text>
    </g>
    <g id="line2d_43">
     <path d="M 333.164167 42.485937 
L 339.164167 42.485937 
L 345.164167 42.485937 
" style="fill: none; stroke: #1f77b4; stroke-opacity: 0.4; stroke-width: 0.9; stroke-linecap: square"/>
    </g>
    <g id="text_28">
     <text style="font-size: 6px; font-family: 'DejaVu Serif', serif; text-anchor: start" x="349.964167" y="44.585938" transform="rotate(-0 349.964167 44.585938)">240 ns</text>
    </g>
    <g id="line2d_44">
     <path d="M 333.164167 51.112813 
L 339.164167 51.112813 
L 345.164167 51.112813 
" style="fill: none; stroke: #1f77b4; stroke-opacity: 0.6; stroke-width: 0.9; stroke-linecap: square"/>
    </g>
    <g id="text_29">
     <text style="font-size: 6px; font-family: 'DejaVu Serif', serif; text-anchor: start" x="349.964167" y="53.212813" transform="rotate(-0 349.964167 53.212813)">360 ns</text>
    </g>
    <g id="line2d_45">
     <path d="M 333.164167 59.739688 
L 339.164167 59.739688 
L 345.164167 59.739688 
" style="fill: none; stroke: #1f77b4; stroke-opacity: 0.8; stroke-width: 0.9; stroke-linecap: square"/>
    </g>
    <g id="text_30">
     <text style="font-size: 6px; font-family: 'DejaVu Serif', serif; text-anchor: start" x="349.964167" y="61.839688" transform="rotate(-0 349.964167 61.839688)">480 ns</text>
    </g>
    <g id="line2d_46">
     <path d="M 333.164167 68.366563 
L 339.164167 68.366563 
L 345.164167 68.366563 
" style="fill: none; stroke: #1f77b4; stroke-width: 0.9; stroke-linecap: square"/>
    </g>
    <g id="text_31">
     <text style="font-size: 6px; font-family: 'DejaVu Serif', serif; text-anchor: start" x="349.964167" y="70.466563" transform="rotate(-0 349.964167 70.466563)">600 ns</text>
    </g>
   </g>
  </g>
  <g id="axes_3">
   <g id="patch_14">
    <path d="M 390.333333 175.666667 
L 543 175.666667 
L 543 26 
L 390.333333 26 
z
" style="fill: #ffffff"/>
   </g>
   <g id="matplotlib.axis_5">
    <g id="xtick_11">
     <g id="line2d_47">
      <g>
       <use href="#m1504cfccaf" x="404.983165" y="175.666667" style="stroke: #000000; stroke-width: 0.8"/>
      </g>
     </g>
     <g id="text_32">
      <text style="font-size: 10px; font-family: 'DejaVu Serif', serif; text-anchor: middle" x="404.983165" y="190.265104" transform="rotate(-0 404.983165 190.265104)">−40</text>
     </g>
    </g>
    <g id="xtick_12">
     <g id="line2d_48">
      <g>
       <use href="#m1504cfccaf" x="435.824916" y="175.666667" style="stroke: #000000; stroke-width: 0.8"/>
      </g>
     </g>
     <g id="text_33">
      <text style="font-size: 10px; font-family: 'DejaVu Serif', serif; text-anchor: middle" x="435.824916" y="190.265104" transform="rotate(-0 435.824916 190.265104)">−20</text>
     </g>
    </g>
    <g id="xtick_13">
     <g id="line2d_49">
      <g>
       <use href="#m1504cfccaf" x="466.666667" y="175.666667" style="stroke: #000000; stroke-width: 0.8"/>
      </g>
     </g>
     <g id="text_34">
      <text style="font-size: 10px; font-family: 'DejaVu Serif', serif; text-anchor: middle" x="466.666667" y="190.265104" transform="rotate(-0 466.666667 190.265104)">0</text>
     </g>
    </g>
    <g id="xtick_14">
     <g id="line2d_50">
      <g>
       <use href="#m1504cfccaf" x="497.508418" y="175.666667" style="stroke: #000000; stroke-width: 0.8"/>
      </g>
     </g>
     <g id="text_35">
      <text style="font-size: 10px; font-family: 'DejaVu Serif', serif; text-anchor: middle" x="497.508418" y="190.265104" transform="rotate(-0 497.508418 190.265104)">20</text>
     </g>
    </g>
    <g id="xtick_15">
     <g id="line2d_51">
      <g>
       <use href="#m1504cfccaf" x="528.350168" y="175.666667" style="stroke: #000000; stroke-width: 0.8"/>
      </g>
     </g>
     <g id="text_36">
      <text style="font-size: 10px; font-family: 'DejaVu Serif', serif; text-anchor: middle" x="528.350168" y="190.265104" transform="rotate(-0 528.350168 190.265104)">40</text>
     </g>
    </g>
   </g>
   <g id="matplotlib.axis_6">
    <g id="ytick_17">
     <g id="line2d_52">
      <g>
       <use href="#m5d545ce8f8" x="390.333333" y="175.666667" style="stroke: #000000; stroke-width: 0.8"/>
      </g>
     </g>
    </g>
    <g id="ytick_18">
     <g id="line2d_53">
      <g>
       <use href="#m5d545ce8f8" x="390.333333" y="154.285714" style="stroke: #000000; stroke-width: 0.8"/>
      </g>
     </g>
    </g>
    <g id="ytick_19">
     <g id="line2d_54">
      <g>
       <use href="#m5d545ce8f8" x="390.333333" y="132.904762" style="stroke: #000000; stroke-width: 0.8"/>
      </g>
     </g>
    </g>
    <g id="ytick_20">
     <g id="line2d_55">
      <g>
       <use href="#m5d545ce8f8" x="390.333333" y="111.52381" style="stroke: #000000; stroke-width: 0.8"/>
      </g>
     </g>
    </g>
    <g id="ytick_21">
     <g id="line2d_56">
      <g>
       <use href="#m5d545ce8f8" x="390.333333" y="90.142857" style="stroke: #000000; stroke-width: 0.8"/>
      </g>
     </g>
    </g>
    <g id="ytick_22">
     <g id="line2d_57">
      <g>
       <use href="#m5d545ce8f8" x="390.333333" y="68.761905" style="stroke: #000000; stroke-width: 0.8"/>
      </g>
     </g>
    </g>
    <g id="ytick_23">
     <g id="line2d_58">
      <g>
       <use href="#m5d545ce8f8" x="390.333333" y="47.380952" style="stroke: #000000; stroke-width: 0.8"/>
      </g>
     </g>
    </g>
    <g id="ytick_24">
     <g id="line2d_59">
      <g>
       <use href="#m5d545ce8f8" x="390.333333" y="26" style="stroke: #000000; stroke-width: 0.8"/>
      </g>
     </g>
    </g>
   </g>
   <g id="line2d_60">
    <path d="M 397.272727 154.17881 
L 405.368687 154.293991 
L 408.838384 154.478912 
L 410.380471 154.820238 
L 411.537037 155.24446 
L 412.693603 155.889286 
L 413.464646 156.566515 
L 415.006734 158.477363 
L 416.934343 160.664358 
L 418.861953 162.740323 
L 420.018519 163.742369 
L 422.33165 165.300174 
L 423.102694 165.578262 
L 423.873737 165.571712 
L 424.644781 165.253649 
L 426.186869 164.169964 
L 426.957912 163.448892 
L 428.114478 161.993824 
L 429.271044 160.199101 
L 430.427609 157.892631 
L 431.198653 156.017294 
L 431.969697 153.563245 
L 433.897306 146.169085 
L 435.824916 138.535121 
L 437.367003 133.141717 
L 438.523569 130.095603 
L 439.680135 127.51973 
L 440.8367 125.446721 
L 441.607744 124.463596 
L 442.378788 123.628767 
L 442.76431 122.722946 
L 445.077441 115.137868 
L 445.462963 114.538237 
L 445.848485 114.622413 
L 446.619529 115.439908 
L 447.390572 116.443922 
L 448.161616 117.687764 
L 448.547138 118.077722 
L 448.93266 118.142718 
L 450.089226 117.967009 
L 450.474747 118.83246 
L 451.631313 124.079932 
L 454.329966 138.784524 
L 455.872054 145.601402 
L 457.414141 151.401567 
L 458.185185 153.75119 
L 459.341751 156.503464 
L 460.883838 159.440318 
L 462.425926 162.051088 
L 463.19697 163.022514 
L 464.353535 163.957815 
L 465.510101 164.677959 
L 466.281145 164.939821 
L 467.052189 164.956052 
L 468.208754 164.704762 
L 469.36532 164.264223 
L 470.136364 163.706575 
L 470.907407 162.926185 
L 471.678451 161.76041 
L 472.449495 160.064724 
L 473.220539 157.965407 
L 474.762626 152.305631 
L 476.690236 145.230822 
L 478.232323 139.858101 
L 481.316498 127.715463 
L 483.244108 119.796462 
L 485.557239 109.3331 
L 485.942761 108.218378 
L 486.328283 107.899681 
L 486.713805 108.214415 
L 489.026936 111.814651 
L 492.882155 118.448026 
L 493.653199 120.247718 
L 494.809764 123.671148 
L 496.351852 128.829503 
L 500.592593 144.367417 
L 505.218855 165.421693 
L 506.375421 169.5498 
L 507.917508 174.325246 
L 508.30303 174.865168 
L 508.688552 174.904533 
L 509.459596 174.689108 
L 510.616162 174.063095 
L 511.001684 173.728693 
L 511.772727 172.644784 
L 512.929293 170.855952 
L 515.242424 168.169275 
L 518.712121 164.497398 
L 519.868687 163.809133 
L 521.025253 163.388534 
L 522.952862 163.095264 
L 525.265993 163.023783 
L 536.060606 162.945 
L 536.060606 162.945 
" clip-path="url(#pc6bdd62112)" style="fill: none; stroke: #1f77b4; stroke-opacity: 0.2; stroke-width: 0.9; stroke-linecap: square"/>
   </g>
   <g id="line2d_61">
    <path d="M 397.272727 154.179028 
L 405.754209 154.302705 
L 408.838384 154.478912 
L 410.380471 154.820238 
L 411.537037 155.24446 
L 412.693603 155.889286 
L 413.464646 156.566515 
L 415.006734 158.477363 
L 416.934343 160.664358 
L 418.861953 162.740323 
L 420.018519 163.742369 
L 422.33165 165.300174 
L 423.102694 165.578262 
L 423.873737 165.566783 
L 424.644781 165.214901 
L 425.801347 164.335576 
L 426.572391 163.66063 
L 427.728956 162.226462 
L 428.885522 160.37503 
L 430.042088 157.927638 
L 431.198653 154.866018 
L 431.969697 152.191074 
L 433.897306 144.335906 
L 435.439394 138.037935 
L 436.981481 132.598139 
L 438.138047 129.390069 
L 439.294613 126.87162 
L 441.222222 123.299369 
L 442.378788 121.140973 
L 443.149832 118.945638 
L 445.077441 113.035677 
L 445.462963 112.46688 
L 445.848485 112.447138 
L 446.619529 112.850552 
L 447.390572 113.373904 
L 448.547138 114.2762 
L 450.089226 114.619059 
L 450.474747 115.542931 
L 451.245791 118.654357 
L 452.016835 122.932655 
L 453.173401 129.882915 
L 454.715488 137.165642 
L 456.257576 143.481924 
L 457.799663 148.933119 
L 458.570707 151.126786 
L 459.341751 152.791188 
L 460.498316 154.729033 
L 462.040404 156.884323 
L 463.19697 158.109225 
L 464.353535 158.883763 
L 465.510101 159.473536 
L 466.281145 159.700271 
L 467.052189 159.706102 
L 468.208754 159.377576 
L 469.36532 158.832641 
L 470.136364 158.279257 
L 470.907407 157.516897 
L 471.678451 156.468252 
L 472.449495 155.052935 
L 473.220539 153.243535 
L 474.762626 148.484656 
L 478.617845 135.183532 
L 480.159933 128.81442 
L 481.316498 123.391018 
L 483.244108 112.932001 
L 484.400673 108.489632 
L 485.171717 106.321156 
L 485.557239 105.414352 
L 485.942761 104.868145 
L 486.328283 104.922005 
L 487.099327 105.981041 
L 489.026936 108.836866 
L 490.569024 111.101015 
L 492.111111 113.789071 
L 493.267677 116.07236 
L 494.038721 117.949569 
L 495.195286 121.502017 
L 499.436027 138.015661 
L 503.291246 154.181756 
L 505.218855 161.74682 
L 506.375421 165.657 
L 507.531987 168.857418 
L 507.917508 169.630493 
L 508.30303 170.011849 
L 509.074074 169.918122 
L 510.23064 169.400257 
L 511.001684 168.880846 
L 511.772727 167.955158 
L 513.700337 165.36575 
L 517.941077 160.311177 
L 518.712121 159.607672 
L 519.868687 158.965173 
L 521.025253 158.578894 
L 522.56734 158.310164 
L 524.880471 158.239566 
L 536.060606 158.182393 
L 536.060606 158.182393 
" clip-path="url(#pc6bdd62112)" style="fill: none; stroke: #1f77b4; stroke-opacity: 0.4; stroke-width: 0.9; stroke-linecap: square"/>
   </g>
   <g id="line2d_62">
    <path d="M 397.272727 154.179149 
L 405.754209 154.302627 
L 408.838384 154.478912 
L 410.380471 154.820238 
L 411.537037 155.24446 
L 412.693603 155.889286 
L 413.464646 156.566515 
L 415.006734 158.477363 
L 416.934343 160.664358 
L 418.861953 162.740323 
L 420.018519 163.742369 
L 422.33165 165.300174 
L 423.102694 165.578262 
L 423.873737 165.564045 
L 424.644781 165.193374 
L 425.801347 164.268166 
L 426.572391 163.560967 
L 427.343434 162.618509 
L 428.5 160.824711 
L 429.271044 159.31424 
L 430.427609 156.464857 
L 431.584175 152.902159 
L 433.126263 146.637114 
L 436.210438 134.166049 
L 437.367003 130.462509 
L 438.523569 127.60878 
L 440.065657 124.635627 
L 441.607744 121.593958 
L 442.76431 118.6936 
L 445.077441 111.867792 
L 445.462963 111.316127 
L 445.848485 111.238653 
L 447.005051 111.520221 
L 449.318182 112.315177 
L 449.703704 112.410451 
L 450.089226 112.759087 
L 450.474747 113.715414 
L 451.245791 116.676619 
L 452.016835 121.077858 
L 452.787879 126.193699 
L 453.944444 131.917123 
L 455.872054 139.981025 
L 457.414141 145.578551 
L 458.570707 149.117172 
L 459.341751 150.728812 
L 460.498316 152.503306 
L 461.654882 153.929591 
L 462.811448 155.072434 
L 463.968013 155.864471 
L 465.510101 156.58219 
L 466.281145 156.78941 
L 467.052189 156.789464 
L 467.823232 156.57918 
L 469.36532 155.815095 
L 470.136364 155.264081 
L 471.292929 154.057461 
L 472.063973 152.934933 
L 472.835017 151.500367 
L 473.991582 148.595944 
L 475.53367 143.91962 
L 477.846801 136.292393 
L 479.388889 130.27546 
L 480.545455 125.039976 
L 481.316498 120.988549 
L 482.858586 110.762991 
L 483.62963 107.639852 
L 484.400673 105.38458 
L 485.171717 103.808882 
L 485.557239 103.23727 
L 485.942761 103.006904 
L 486.328283 103.26774 
L 491.340067 110.603514 
L 493.267677 114.285164 
L 494.424242 117.1123 
L 495.195286 119.621523 
L 501.363636 144.428441 
L 504.833333 156.350433 
L 506.375421 161.292346 
L 507.531987 163.824317 
L 507.917508 164.366679 
L 508.30303 164.570249 
L 509.074074 164.415504 
L 510.616162 163.706246 
L 511.387205 163.10862 
L 512.543771 161.739588 
L 514.856902 158.678325 
L 516.39899 156.479302 
L 518.326599 154.435077 
L 519.097643 153.87882 
L 520.254209 153.400145 
L 522.181818 152.929719 
L 524.109428 152.872316 
L 536.060606 152.8425 
L 536.060606 152.8425 
" clip-path="url(#pc6bdd62112)" style="fill: none; stroke: #1f77b4; stroke-opacity: 0.6; stroke-width: 0.9; stroke-linecap: square"/>
   </g>
   <g id="line2d_63">
    <path d="M 397.272727 154.179173 
L 405.754209 154.302612 
L 408.838384 154.478912 
L 410.380471 154.820238 
L 411.537037 155.24446 
L 412.693603 155.889286 
L 413.464646 156.566515 
L 415.006734 158.477363 
L 416.934343 160.664358 
L 418.861953 162.740323 
L 420.018519 163.742369 
L 422.33165 165.300174 
L 423.102694 165.578262 
L 423.873737 165.563497 
L 424.644781 165.189068 
L 425.801347 164.254685 
L 426.572391 163.541035 
L 427.343434 162.590894 
L 428.5 160.780565 
L 429.271044 159.251036 
L 430.427609 156.362873 
L 431.584175 152.761842 
L 433.126263 146.451916 
L 435.824916 135.321593 
L 437.367003 130.271137 
L 438.523569 127.431149 
L 440.065657 124.483364 
L 441.222222 122.241012 
L 442.378788 119.482443 
L 443.920875 114.859013 
L 444.691919 112.523805 
L 445.077441 111.634216 
L 445.462963 111.085976 
L 445.848485 110.996956 
L 447.005051 111.208299 
L 449.703704 112.013233 
L 450.089226 112.387093 
L 450.474747 113.349911 
L 451.245791 116.281071 
L 451.631313 118.210344 
L 453.173401 127.913917 
L 454.329966 133.244004 
L 456.257576 141.049873 
L 458.185185 147.656963 
L 458.956229 149.604559 
L 460.112795 151.529566 
L 461.26936 153.010066 
L 462.425926 154.201354 
L 463.582492 155.087692 
L 465.124579 155.851822 
L 466.281145 156.207238 
L 467.052189 156.206136 
L 467.823232 155.990979 
L 469.36532 155.211586 
L 470.136364 154.661046 
L 471.292929 153.459831 
L 472.063973 152.361478 
L 472.835017 150.957792 
L 473.991582 148.125101 
L 475.148148 144.752038 
L 477.846801 135.935837 
L 479.388889 129.910895 
L 480.545455 124.630927 
L 481.316498 120.508055 
L 482.858586 109.998921 
L 483.62963 106.898132 
L 484.400673 104.763569 
L 485.171717 103.306427 
L 485.557239 102.801853 
L 485.942761 102.634656 
L 486.328283 102.936887 
L 489.026936 106.851676 
L 489.79798 107.755417 
L 490.954545 109.559909 
L 492.882155 113.149738 
L 494.038721 115.703205 
L 494.809764 117.850337 
L 495.580808 120.720448 
L 497.508418 128.603155 
L 500.978114 141.88464 
L 502.520202 146.319146 
L 503.676768 149.463361 
L 506.375421 157.753438 
L 507.146465 159.190021 
L 507.531987 159.743425 
L 507.917508 160.098722 
L 508.30303 160.158141 
L 509.074074 159.953923 
L 511.001684 159.038248 
L 511.772727 158.433798 
L 512.929293 157.127123 
L 514.47138 155.050099 
L 516.39899 152.000158 
L 517.941077 150.322106 
L 518.712121 149.680047 
L 519.483165 149.269991 
L 521.025253 148.813866 
L 522.181818 148.533887 
L 524.494949 148.512857 
L 536.060606 148.512857 
L 536.060606 148.512857 
" clip-path="url(#pc6bdd62112)" style="fill: none; stroke: #1f77b4; stroke-opacity: 0.8; stroke-width: 0.9; stroke-linecap: square"/>
   </g>
   <g id="line2d_64">
    <path d="M 397.272727 154.179295 
L 406.139731 154.31239 
L 408.838384 154.478912 
L 410.380471 154.820238 
L 411.537037 155.24446 
L 412.693603 155.889286 
L 413.464646 156.566515 
L 415.006734 158.477363 
L 416.934343 160.664358 
L 418.861953 162.740323 
L 420.018519 163.742369 
L 422.33165 165.300174 
L 423.102694 165.578262 
L 423.873737 165.560759 
L 424.644781 165.167541 
L 425.801347 164.187275 
L 426.572391 163.441372 
L 427.343434 162.45282 
L 428.5 160.559834 
L 429.271044 158.935014 
L 430.427609 155.852954 
L 431.584175 152.060262 
L 433.126263 145.525927 
L 435.824916 134.250418 
L 436.981481 130.434141 
L 438.138047 127.365498 
L 439.294613 125.091558 
L 440.8367 122.223111 
L 441.607744 120.364113 
L 445.077441 110.466332 
L 445.462963 109.935222 
L 446.234007 109.732521 
L 448.161616 109.599524 
L 448.93266 109.716147 
L 449.703704 110.027143 
L 450.089226 110.527121 
L 450.474747 111.522395 
L 451.245791 114.303333 
L 451.631313 116.253815 
L 453.173401 126.273085 
L 454.329966 131.397165 
L 456.643098 140.388095 
L 458.570707 146.705635 
L 459.341751 148.253961 
L 460.498316 149.832434 
L 461.654882 150.977711 
L 463.19697 152.104093 
L 464.353535 152.682143 
L 465.895623 153.222293 
L 466.666667 153.323571 
L 467.43771 153.194626 
L 468.594276 152.655433 
L 470.136364 151.645869 
L 471.292929 150.471682 
L 472.449495 148.927415 
L 473.220539 147.472357 
L 474.377104 144.833059 
L 475.919192 140.457703 
L 477.461279 135.507429 
L 479.003367 129.71074 
L 480.159933 124.547077 
L 481.316498 118.105586 
L 482.858586 106.178571 
L 483.62963 103.189534 
L 484.015152 102.245148 
L 484.786195 101.158542 
L 485.171717 100.794154 
L 485.557239 100.624771 
L 485.942761 100.773415 
L 486.713805 101.94343 
L 488.641414 104.833204 
L 489.79798 105.964762 
L 490.569024 107.084878 
L 492.111111 109.920238 
L 493.653199 112.947953 
L 494.424242 114.815683 
L 495.195286 117.364931 
L 499.821549 137.564389 
L 500.978114 141.681328 
L 502.520202 146.2475 
L 503.676768 149.463361 
L 506.375421 157.753438 
L 507.146465 159.190021 
L 507.531987 159.743425 
L 507.917508 160.098722 
L 508.30303 160.158141 
L 509.074074 159.953923 
L 511.001684 159.038248 
L 511.772727 158.433798 
L 512.929293 157.127123 
L 514.47138 155.050099 
L 516.39899 152.000158 
L 517.941077 150.322106 
L 518.712121 149.680047 
L 519.483165 149.269991 
L 521.025253 148.813866 
L 522.181818 148.533887 
L 524.494949 148.512857 
L 536.060606 148.512857 
L 536.060606 148.512857 
" clip-path="url(#pc6bdd62112)" style="fill: none; stroke: #1f77b4; stroke-width: 0.9; stroke-linecap: square"/>
   </g>
   <g id="patch_15">
    <path d="M 390.333333 175.666667 
L 390.333333 26 
" style="fill: none; stroke: #000000; stroke-width: 0.8; stroke-linejoin: miter; stroke-linecap: square"/>
   </g>
   <g id="patch_16">
    <path d="M 543 175.666667 
L 543 26 
" style="fill: none; stroke: #000000; stroke-width: 0.8; stroke-linejoin: miter; stroke-linecap: square"/>
   </g>
   <g id="patch_17">
    <path d="M 390.333333 175.666667 
L 543 175.666667 
" style="fill: none; stroke: #000000; stroke-width: 0.8; stroke-linejoin: miter; stroke-linecap: square"/>
   </g>
   <g id="patch_18">
    <path d="M 390.333333 26 
L 543 26 
" style="fill: none; stroke: #000000; stroke-width: 0.8; stroke-linejoin: miter; stroke-linecap: square"/>
   </g>
   <g id="text_37">
    <text style="font-size: 12px; font-family: 'DejaVu Serif', serif; text-anchor: middle" x="466.666667" y="20" transform="rotate(-0 466.666667 20)">6-MHO</text>
   </g>
   <g id="legend_3">
    <g id="patch_19">
     <path d="M 499.2975 74.114375 
L 538.8 74.114375 
Q 540 74.114375 540 72.914375 
L 540 30.2 
Q 540 29 538.8 29 
L 499.2975 29 
Q 498.0975 29 498.0975 30.2 
L 498.0975 72.914375 
Q 498.0975 74.114375 499.2975 74.114375 
z
" style="fill: #ffffff; opacity: 0.8; stroke: #cccccc; stroke-linejoin: miter"/>
    </g>
    <g id="line2d_65">
     <path d="M 500.4975 33.859063 
L 506.4975 33.859063 
L 512.4975 33.859063 
" style="fill: none; stroke: #1f77b4; stroke-opacity: 0.2; stroke-width: 0.9; stroke-linecap: square"/>
    </g>
    <g id="text_38">
     <text style="font-size: 6px; font-family: 'DejaVu Serif', serif; text-anchor: start" x="517.2975" y="35.959063" transform="rotate(-0 517.2975 35.959063)">120 ns</text>
    </g>
    <g id="line2d_66">
     <path d="M 500.4975 42.485937 
L 506.4975 42.485937 
L 512.4975 42.485937 
" style="fill: none; stroke: #1f77b4; stroke-opacity: 0.4; stroke-width: 0.9; stroke-linecap: square"/>
    </g>
    <g id="text_39">
     <text style="font-size: 6px; font-family: 'DejaVu Serif', serif; text-anchor: start" x="517.2975" y="44.585938" transform="rotate(-0 517.2975 44.585938)">240 ns</text>
    </g>
    <g id="line2d_67">
     <path d="M 500.4975 51.112813 
L 506.4975 51.112813 
L 512.4975 51.112813 
" style="fill: none; stroke: #1f77b4; stroke-opacity: 0.6; stroke-width: 0.9; stroke-linecap: square"/>
    </g>
    <g id="text_40">
     <text style="font-size: 6px; font-family: 'DejaVu Serif', serif; text-anchor: start" x="517.2975" y="53.212813" transform="rotate(-0 517.2975 53.212813)">360 ns</text>
    </g>
    <g id="line2d_68">
     <path d="M 500.4975 59.739688 
L 506.4975 59.739688 
L 512.4975 59.739688 
" style="fill: none; stroke: #1f77b4; stroke-opacity: 0.8; stroke-width: 0.9; stroke-linecap: square"/>
    </g>
    <g id="text_41">
     <text style="font-size: 6px; font-family: 'DejaVu Serif', serif; text-anchor: start" x="517.2975" y="61.839688" transform="rotate(-0 517.2975 61.839688)">480 ns</text>
    </g>
    <g id="line2d_69">
     <path d="M 500.4975 68.366563 
L 506.4975 68.366563 
L 512.4975 68.366563 
" style="fill: none; stroke: #1f77b4; stroke-width: 0.9; stroke-linecap: square"/>
    </g>
    <g id="text_42">
     <text style="font-size: 6px; font-family: 'DejaVu Serif', serif; text-anchor: start" x="517.2975" y="70.466563" transform="rotate(-0 517.2975 70.466563)">600 ns</text>
    </g>
   </g>
  </g>
  <g id="axes_4">
   <g id="patch_20">
    <path d="M 55.666667 353.333333 
L 208.666667 353.333333 
L 208.666667 203.666667 
L 55.666667 203.666667 
z
" style="fill: #ffffff"/>
   </g>
   <g id="matplotlib.axis_7">
    <g id="xtick_16">
     <g id="line2d_70">
      <g>
       <use href="#m1504cfccaf" x="70.348485" y="353.333333" style="stroke: #000000; stroke-width: 0.8"/>
      </g>
     </g>
     <g id="text_43">
      <text style="font-size: 10px; font-family: 'DejaVu Serif', serif; text-anchor: middle" x="70.348485" y="367.931771" transform="rotate(-0 70.348485 367.931771)">−40</text>
     </g>
    </g>
    <g id="xtick_17">
     <g id="line2d_71">
      <g>
       <use href="#m1504cfccaf" x="101.257576" y="353.333333" style="stroke: #000000; stroke-width: 0.8"/>
      </g>
     </g>
     <g id="text_44">
      <text style="font-size: 10px; font-family: 'DejaVu Serif', serif; text-anchor: middle" x="101.257576" y="367.931771" transform="rotate(-0 101.257576 367.931771)">−20</text>
     </g>
    </g>
    <g id="xtick_18">
     <g id="line2d_72">
      <g>
       <use href="#m1504cfccaf" x="132.166667" y="353.333333" style="stroke: #000000; stroke-width: 0.8"/>
      </g>
     </g>
     <g id="text_45">
      <text style="font-size: 10px; font-family: 'DejaVu Serif', serif; text-anchor: middle" x="132.166667" y="367.931771" transform="rotate(-0 132.166667 367.931771)">0</text>
     </g>
    </g>
    <g id="xtick_19">
     <g id="line2d_73">
      <g>
       <use href="#m1504cfccaf" x="163.075758" y="353.333333" style="stroke: #000000; stroke-width: 0.8"/>
      </g>
     </g>
     <g id="text_46">
      <text style="font-size: 10px; font-family: 'DejaVu Serif', serif; text-anchor: middle" x="163.075758" y="367.931771" transform="rotate(-0 163.075758 367.931771)">20</text>
     </g>
    </g>
    <g id="xtick_20">
     <g id="line2d_74">
      <g>
       <use href="#m1504cfccaf" x="193.984848" y="353.333333" style="stroke: #000000; stroke-width: 0.8"/>
      </g>
     </g>
     <g id="text_47">
      <text style="font-size: 10px; font-family: 'DejaVu Serif', serif; text-anchor: middle" x="193.984848" y="367.931771" transform="rotate(-0 193.984848 367.931771)">40</text>
     </g>
    </g>
    <g id="text_48">
     
     <g transform="translate(70.58374 383.961771)">
      <text xml:space="preserve"><tspan x="0 7.651 13.672 16.87 20.068 25.986 31.587 35.605 38.804 44.453 50.371 53.55 59.199 65.161 69.941 73.14 79.102 85.503 88.701 94.619 97.798" y="-0.71875" style="font-size: 10px; font-family: 'DejaVu Serif', serif">Collective variable, </tspan><tspan x="100.977" y="-0.71875" style="font-style: oblique; font-size: 10px; font-family: 'DejaVu Sans', sans-serif">z</tspan><tspan x="106.226" y="-0.71875" style="font-size: 10px; font-family: 'DejaVu Serif', serif"> </tspan><tspan x="109.404 113.306 120.146" y="-0.71875" style="font-size: 10px; font-family: 'DejaVu Sans', sans-serif">(Å)</tspan></text>
     </g>
    </g>
   </g>
   <g id="matplotlib.axis_8">
    <g id="ytick_25">
     <g id="line2d_75">
      <g>
       <use href="#m5d545ce8f8" x="55.666667" y="353.333333" style="stroke: #000000; stroke-width: 0.8"/>
      </g>
     </g>
     <g id="text_49">
      <text style="font-size: 10px; font-family: 'DejaVu Serif', serif; text-anchor: end" x="48.666667" y="357.132552" transform="rotate(-0 48.666667 357.132552)">−2</text>
     </g>
    </g>
    <g id="ytick_26">
     <g id="line2d_76">
      <g>
       <use href="#m5d545ce8f8" x="55.666667" y="331.952381" style="stroke: #000000; stroke-width: 0.8"/>
      </g>
     </g>
     <g id="text_50">
      <text style="font-size: 10px; font-family: 'DejaVu Serif', serif; text-anchor: end" x="48.666667" y="335.7516" transform="rotate(-0 48.666667 335.7516)">0</text>
     </g>
    </g>
    <g id="ytick_27">
     <g id="line2d_77">
      <g>
       <use href="#m5d545ce8f8" x="55.666667" y="310.571429" style="stroke: #000000; stroke-width: 0.8"/>
      </g>
     </g>
     <g id="text_51">
      <text style="font-size: 10px; font-family: 'DejaVu Serif', serif; text-anchor: end" x="48.666667" y="314.370647" transform="rotate(-0 48.666667 314.370647)">2</text>
     </g>
    </g>
    <g id="ytick_28">
     <g id="line2d_78">
      <g>
       <use href="#m5d545ce8f8" x="55.666667" y="289.190476" style="stroke: #000000; stroke-width: 0.8"/>
      </g>
     </g>
     <g id="text_52">
      <text style="font-size: 10px; font-family: 'DejaVu Serif', serif; text-anchor: end" x="48.666667" y="292.989695" transform="rotate(-0 48.666667 292.989695)">4</text>
     </g>
    </g>
    <g id="ytick_29">
     <g id="line2d_79">
      <g>
       <use href="#m5d545ce8f8" x="55.666667" y="267.809524" style="stroke: #000000; stroke-width: 0.8"/>
      </g>
     </g>
     <g id="text_53">
      <text style="font-size: 10px; font-family: 'DejaVu Serif', serif; text-anchor: end" x="48.666667" y="271.608743" transform="rotate(-0 48.666667 271.608743)">6</text>
     </g>
    </g>
    <g id="ytick_30">
     <g id="line2d_80">
      <g>
       <use href="#m5d545ce8f8" x="55.666667" y="246.428571" style="stroke: #000000; stroke-width: 0.8"/>
      </g>
     </g>
     <g id="text_54">
      <text style="font-size: 10px; font-family: 'DejaVu Serif', serif; text-anchor: end" x="48.666667" y="250.22779" transform="rotate(-0 48.666667 250.22779)">8</text>
     </g>
    </g>
    <g id="ytick_31">
     <g id="line2d_81">
      <g>
       <use href="#m5d545ce8f8" x="55.666667" y="225.047619" style="stroke: #000000; stroke-width: 0.8"/>
      </g>
     </g>
     <g id="text_55">
      <text style="font-size: 10px; font-family: 'DejaVu Serif', serif; text-anchor: end" x="48.666667" y="228.846838" transform="rotate(-0 48.666667 228.846838)">10</text>
     </g>
    </g>
    <g id="ytick_32">
     <g id="line2d_82">
      <g>
       <use href="#m5d545ce8f8" x="55.666667" y="203.666667" style="stroke: #000000; stroke-width: 0.8"/>
      </g>
     </g>
     <g id="text_56">
      <text style="font-size: 10px; font-family: 'DejaVu Serif', serif; text-anchor: end" x="48.666667" y="207.465885" transform="rotate(-0 48.666667 207.465885)">12</text>
     </g>
    </g>
    <g id="text_57">
     
     <g transform="translate(27.624479 351.1) rotate(-90)">
      <text xml:space="preserve"><tspan x="0 6.938 11.719 17.637 23.555 26.733 32.651 39.092 45.01 49.79 56.191 61.841 65.02" y="-0.064063" style="font-size: 10px; font-family: 'DejaVu Serif', serif">Free energy, </tspan><tspan x="68.198" y="-0.064063" style="font-size: 10px; font-family: 'DejaVu Sans', sans-serif">Δ</tspan><tspan x="75.039" y="-0.064063" style="font-style: oblique; font-size: 10px; font-family: 'DejaVu Sans', sans-serif">F</tspan><tspan x="80.791 83.97 87.871 93.931 99.531 105.493" y="-0.064063" style="font-size: 10px; font-family: 'DejaVu Serif', serif"> (kcal</tspan><tspan x="108.691" y="-0.064063" style="font-size: 10px; font-family: 'DejaVu Sans', sans-serif">⋅</tspan><tspan x="111.87 121.353 127.373" y="-0.064063" style="font-size: 10px; font-family: 'DejaVu Serif', serif">mol</tspan><tspan x="130.667 136.532" y="-3.892188" style="font-size: 7px; font-family: 'DejaVu Sans', sans-serif">−1</tspan><tspan x="141.259" y="-0.064063" style="font-size: 10px; font-family: 'DejaVu Serif', serif">)</tspan></text>
     </g>
    </g>
   </g>
   <g id="line2d_83">
    <path d="M 62.621212 331.952381 
L 81.55303 331.848386 
L 83.484848 331.658567 
L 86.189394 331.109905 
L 87.734848 330.585942 
L 89.280303 329.855524 
L 90.439394 329.13626 
L 91.598485 328.196315 
L 93.143939 326.609148 
L 94.30303 325.125731 
L 95.462121 323.149782 
L 96.621212 320.70447 
L 97.780303 317.850507 
L 98.55303 315.455671 
L 99.712121 310.99949 
L 100.871212 305.448898 
L 102.416667 296.671852 
L 103.962121 286.472791 
L 104.734848 280.64526 
L 105.507576 273.083881 
L 106.666667 261.721657 
L 108.984848 242.568792 
L 110.143939 235.524524 
L 110.916667 233.111374 
L 111.30303 232.215925 
L 111.689394 231.668662 
L 112.075758 231.606168 
L 112.462121 231.977927 
L 113.234848 233.409368 
L 114.007576 234.773463 
L 115.55303 236.72053 
L 116.712121 237.86605 
L 118.257576 239.006728 
L 120.189394 240.367057 
L 121.348485 241.474697 
L 123.666667 244.233093 
L 124.439394 244.973876 
L 125.212121 245.418533 
L 126.371212 245.768004 
L 127.530303 245.915351 
L 130.234848 245.993034 
L 132.939394 245.921764 
L 135.257576 245.990124 
L 137.575758 245.840893 
L 138.734848 245.554406 
L 139.507576 245.246751 
L 140.280303 244.624563 
L 141.825758 242.954654 
L 143.371212 241.051938 
L 144.530303 240.067537 
L 148.393939 237.140204 
L 149.55303 235.789105 
L 150.712121 234.171956 
L 151.871212 231.977927 
L 152.257576 231.606168 
L 152.643939 231.668662 
L 153.030303 232.215925 
L 153.80303 234.207474 
L 154.189394 235.524524 
L 154.962121 239.982966 
L 155.734848 245.441101 
L 158.05303 265.170354 
L 159.984848 283.686755 
L 161.530303 294.22621 
L 163.075758 303.392835 
L 164.234848 309.281401 
L 165.393939 314.060813 
L 166.55303 317.850507 
L 168.098485 321.567803 
L 169.257576 323.863721 
L 170.416667 325.669096 
L 171.962121 327.44973 
L 173.507576 328.847217 
L 174.666667 329.640476 
L 176.212121 330.421163 
L 177.757576 331.000411 
L 179.689394 331.4444 
L 182.007576 331.787094 
L 185.484848 332.005519 
L 189.348485 332.052333 
L 194.371212 331.924052 
L 197.848485 331.53862 
L 199.780303 331.684005 
L 200.939394 332.041468 
L 201.712121 332.38 
L 201.712121 332.38 
" clip-path="url(#pe142d48d19)" style="fill: none; stroke: #1f77b4; stroke-opacity: 0.2; stroke-width: 0.9; stroke-linecap: square"/>
   </g>
   <g id="line2d_84">
    <path d="M 62.621212 331.631667 
L 81.55303 331.527672 
L 83.484848 331.337852 
L 86.189394 330.78919 
L 87.734848 330.265228 
L 89.280303 329.534809 
L 90.439394 328.815546 
L 91.598485 327.875601 
L 93.143939 326.288434 
L 94.30303 324.805017 
L 95.462121 322.829068 
L 96.621212 320.383756 
L 97.780303 317.529793 
L 98.55303 315.134957 
L 99.712121 310.678776 
L 100.871212 305.128183 
L 102.416667 296.351138 
L 103.962121 286.152077 
L 104.734848 280.324545 
L 105.507576 272.763166 
L 106.666667 261.345756 
L 108.212121 248.71675 
L 108.984848 243.539226 
L 109.757576 240.145225 
L 110.916667 236.36457 
L 111.30303 235.392379 
L 111.689394 235.106778 
L 112.075758 235.423118 
L 112.848485 236.88396 
L 113.621212 238.822702 
L 114.780303 242.704053 
L 115.939394 245.352363 
L 116.712121 246.661821 
L 117.484848 247.477554 
L 120.189394 249.695349 
L 122.121212 251.668384 
L 123.666667 253.042687 
L 125.212121 254.084447 
L 126.371212 254.582511 
L 127.530303 254.919038 
L 128.30303 254.977553 
L 129.462121 254.803161 
L 132.166667 254.232619 
L 132.939394 254.340365 
L 135.257576 254.881103 
L 136.416667 254.971603 
L 137.575758 254.71378 
L 139.121212 254.084447 
L 140.666667 253.042687 
L 142.212121 251.668384 
L 146.075758 248.062537 
L 147.234848 247.11216 
L 148.007576 246.070879 
L 148.780303 244.534337 
L 149.55303 242.704053 
L 151.484848 236.88396 
L 152.257576 235.423118 
L 152.643939 235.106778 
L 153.030303 235.392379 
L 153.80303 237.610221 
L 154.575758 240.145225 
L 155.348485 243.539226 
L 156.121212 248.71675 
L 157.666667 261.345756 
L 158.825758 272.763166 
L 159.598485 280.324545 
L 160.757576 288.792186 
L 162.30303 298.702474 
L 163.848485 307.100764 
L 165.007576 312.24924 
L 166.166667 316.407096 
L 167.325758 319.475331 
L 168.871212 322.829068 
L 170.030303 324.805017 
L 171.189394 326.288434 
L 172.734848 327.875601 
L 174.280303 329.080036 
L 175.825758 329.923378 
L 177.371212 330.555464 
L 178.916667 330.967661 
L 181.621212 331.424297 
L 184.325758 331.626588 
L 188.189394 331.738133 
L 193.984848 331.631667 
L 195.143939 331.481129 
L 197.075758 331.204048 
L 199.393939 331.310952 
L 200.55303 331.574874 
L 201.712121 332.059286 
L 201.712121 332.059286 
" clip-path="url(#pe142d48d19)" style="fill: none; stroke: #1f77b4; stroke-opacity: 0.4; stroke-width: 0.9; stroke-linecap: square"/>
   </g>
   <g id="line2d_85">
    <path d="M 62.621212 331.738571 
L 81.55303 331.634576 
L 83.484848 331.444757 
L 86.189394 330.896095 
L 87.734848 330.372133 
L 89.280303 329.641714 
L 90.439394 328.92245 
L 91.598485 327.982506 
L 93.143939 326.395338 
L 94.30303 324.911922 
L 95.462121 322.935972 
L 96.621212 320.490661 
L 97.780303 317.636697 
L 98.55303 315.241862 
L 99.712121 310.78568 
L 100.871212 305.235088 
L 102.416667 296.458043 
L 103.962121 286.258981 
L 104.734848 280.43145 
L 105.507576 272.870071 
L 106.666667 261.452661 
L 108.212121 248.823654 
L 108.984848 243.646131 
L 109.757576 240.252129 
L 110.916667 236.471475 
L 111.30303 235.499284 
L 111.689394 235.213683 
L 112.075758 235.530023 
L 112.848485 236.990865 
L 113.621212 238.929607 
L 114.780303 242.810958 
L 115.939394 245.459267 
L 116.712121 246.768726 
L 117.484848 247.584459 
L 120.189394 249.802254 
L 122.121212 251.775289 
L 123.666667 253.149592 
L 125.212121 254.191352 
L 126.371212 254.689415 
L 127.530303 255.025942 
L 128.30303 255.084458 
L 129.462121 254.910066 
L 132.166667 254.339524 
L 132.939394 254.44727 
L 135.257576 254.988008 
L 136.416667 255.078508 
L 137.575758 254.820685 
L 139.121212 254.191352 
L 140.666667 253.149592 
L 142.212121 251.775289 
L 146.075758 248.169441 
L 147.234848 247.219065 
L 148.007576 246.177784 
L 148.780303 244.641242 
L 149.55303 242.810958 
L 151.484848 236.990865 
L 152.257576 235.530023 
L 152.643939 235.213683 
L 153.030303 235.499284 
L 153.80303 237.717126 
L 154.575758 240.252129 
L 155.348485 243.646131 
L 156.121212 248.823654 
L 157.666667 261.452661 
L 158.825758 272.870071 
L 159.598485 280.43145 
L 160.757576 288.89909 
L 162.30303 298.809379 
L 163.848485 307.207669 
L 165.007576 312.356145 
L 166.166667 316.514 
L 167.325758 319.582236 
L 168.871212 322.935972 
L 170.030303 324.911922 
L 171.189394 326.395338 
L 172.734848 327.982506 
L 174.280303 329.18694 
L 175.825758 330.030283 
L 177.371212 330.662368 
L 178.916667 331.074566 
L 181.621212 331.531201 
L 184.325758 331.733492 
L 188.189394 331.845037 
L 193.984848 331.738571 
L 195.143939 331.588033 
L 197.075758 331.310952 
L 199.393939 331.417857 
L 200.55303 331.681778 
L 201.712121 332.16619 
L 201.712121 332.16619 
" clip-path="url(#pe142d48d19)" style="fill: none; stroke: #1f77b4; stroke-opacity: 0.6; stroke-width: 0.9; stroke-linecap: square"/>
   </g>
   <g id="line2d_86">
    <path d="M 62.621212 331.845476 
L 81.55303 331.741481 
L 83.484848 331.551662 
L 86.189394 331.003 
L 87.734848 330.479037 
L 89.280303 329.748619 
L 90.439394 329.029355 
L 91.598485 328.089411 
L 93.143939 326.502243 
L 94.30303 325.018826 
L 95.462121 323.042877 
L 96.621212 320.597565 
L 97.780303 317.743602 
L 98.55303 315.348767 
L 99.712121 310.892585 
L 100.871212 305.341993 
L 102.416667 296.564948 
L 103.962121 286.365886 
L 104.734848 280.538355 
L 105.507576 272.976976 
L 106.666667 261.559565 
L 108.212121 248.930559 
L 108.984848 243.753036 
L 109.757576 240.359034 
L 110.916667 236.57838 
L 111.30303 235.606188 
L 111.689394 235.320588 
L 112.075758 235.636927 
L 112.848485 237.097769 
L 113.621212 239.036512 
L 114.780303 242.917862 
L 115.939394 245.566172 
L 116.712121 246.875631 
L 117.484848 247.691364 
L 120.189394 249.909159 
L 122.121212 251.882193 
L 123.666667 253.256496 
L 125.212121 254.298256 
L 126.371212 254.79632 
L 127.530303 255.132847 
L 128.30303 255.191363 
L 129.462121 255.016971 
L 132.166667 254.446429 
L 132.939394 254.554174 
L 135.257576 255.094913 
L 136.416667 255.185412 
L 137.575758 254.92759 
L 139.121212 254.298256 
L 140.666667 253.256496 
L 142.212121 251.882193 
L 146.075758 248.276346 
L 147.234848 247.32597 
L 148.007576 246.284689 
L 148.780303 244.748147 
L 149.55303 242.917862 
L 151.484848 237.097769 
L 152.257576 235.636927 
L 152.643939 235.320588 
L 153.030303 235.606188 
L 153.80303 237.824031 
L 154.575758 240.359034 
L 155.348485 243.753036 
L 156.121212 248.930559 
L 157.666667 261.559565 
L 158.825758 272.976976 
L 159.598485 280.538355 
L 160.757576 289.005995 
L 162.30303 298.916284 
L 163.848485 307.314573 
L 165.007576 312.46305 
L 166.166667 316.620905 
L 167.325758 319.689141 
L 168.871212 323.042877 
L 170.030303 325.018826 
L 171.189394 326.502243 
L 172.734848 328.089411 
L 174.280303 329.293845 
L 175.825758 330.137188 
L 177.371212 330.769273 
L 178.916667 331.18147 
L 181.621212 331.638106 
L 184.325758 331.840397 
L 188.189394 331.951942 
L 193.984848 331.845476 
L 195.143939 331.694938 
L 197.075758 331.417857 
L 199.393939 331.524762 
L 200.55303 331.788683 
L 201.712121 332.273095 
L 201.712121 332.273095 
" clip-path="url(#pe142d48d19)" style="fill: none; stroke: #1f77b4; stroke-opacity: 0.8; stroke-width: 0.9; stroke-linecap: square"/>
   </g>
   <g id="line2d_87">
    <path d="M 62.621212 331.952381 
L 81.55303 331.848386 
L 83.484848 331.658567 
L 86.189394 331.109905 
L 87.734848 330.585942 
L 89.280303 329.855524 
L 90.439394 329.13626 
L 91.598485 328.196315 
L 93.143939 326.609148 
L 94.30303 325.125731 
L 95.462121 323.149782 
L 96.621212 320.70447 
L 97.780303 317.850507 
L 98.55303 315.455671 
L 99.712121 310.99949 
L 100.871212 305.448898 
L 102.416667 296.671852 
L 103.962121 286.472791 
L 104.734848 280.64526 
L 105.507576 273.083881 
L 106.666667 261.66647 
L 108.212121 249.037464 
L 108.984848 243.859941 
L 109.757576 240.465939 
L 110.916667 236.685285 
L 111.30303 235.713093 
L 111.689394 235.427492 
L 112.075758 235.743832 
L 112.848485 237.204674 
L 113.621212 239.143417 
L 114.780303 243.024767 
L 115.939394 245.673077 
L 116.712121 246.982536 
L 117.484848 247.798268 
L 120.189394 250.016063 
L 122.121212 251.989098 
L 123.666667 253.363401 
L 125.212121 254.405161 
L 126.371212 254.903225 
L 127.530303 255.239752 
L 128.30303 255.298267 
L 129.462121 255.123876 
L 132.166667 254.553333 
L 132.939394 254.661079 
L 135.257576 255.201818 
L 136.416667 255.292317 
L 137.575758 255.034495 
L 139.121212 254.405161 
L 140.666667 253.363401 
L 142.212121 251.989098 
L 146.075758 248.383251 
L 147.234848 247.432874 
L 148.007576 246.391594 
L 148.780303 244.855051 
L 149.55303 243.024767 
L 151.484848 237.204674 
L 152.257576 235.743832 
L 152.643939 235.427492 
L 153.030303 235.713093 
L 153.80303 237.930935 
L 154.575758 240.465939 
L 155.348485 243.859941 
L 156.121212 249.037464 
L 157.666667 261.66647 
L 158.825758 273.083881 
L 159.598485 280.64526 
L 160.757576 289.1129 
L 162.30303 299.023188 
L 163.848485 307.421478 
L 165.007576 312.569955 
L 166.166667 316.72781 
L 167.325758 319.796045 
L 168.871212 323.149782 
L 170.030303 325.125731 
L 171.189394 326.609148 
L 172.734848 328.196315 
L 174.280303 329.40075 
L 175.825758 330.244092 
L 177.371212 330.876178 
L 178.916667 331.288375 
L 181.621212 331.745011 
L 184.325758 331.947302 
L 188.189394 332.058847 
L 193.984848 331.952381 
L 195.143939 331.801843 
L 197.075758 331.524762 
L 199.393939 331.631667 
L 200.55303 331.895588 
L 201.712121 332.38 
L 201.712121 332.38 
" clip-path="url(#pe142d48d19)" style="fill: none; stroke: #1f77b4; stroke-width: 0.9; stroke-linecap: square"/>
   </g>
   <g id="patch_21">
    <path d="M 55.666667 353.333333 
L 55.666667 203.666667 
" style="fill: none; stroke: #000000; stroke-width: 0.8; stroke-linejoin: miter; stroke-linecap: square"/>
   </g>
   <g id="patch_22">
    <path d="M 208.666667 353.333333 
L 208.666667 203.666667 
" style="fill: none; stroke: #000000; stroke-width: 0.8; stroke-linejoin: miter; stroke-linecap: square"/>
   </g>
   <g id="patch_23">
    <path d="M 55.666667 353.333333 
L 208.666667 353.333333 
" style="fill: none; stroke: #000000; stroke-width: 0.8; stroke-linejoin: miter; stroke-linecap: square"/>
   </g>
   <g id="patch_24">
    <path d="M 55.666667 203.666667 
L 208.666667 203.666667 
" style="fill: none; stroke: #000000; stroke-width: 0.8; stroke-linejoin: miter; stroke-linecap: square"/>
   </g>
   <g id="legend_4">
    <g id="patch_25">
     <path d="M 164.964167 251.781042 
L 204.466667 251.781042 
Q 205.666667 251.781042 205.666667 250.581042 
L 205.666667 207.866667 
Q 205.666667 206.666667 204.466667 206.666667 
L 164.964167 206.666667 
Q 163.764167 206.666667 163.764167 207.866667 
L 163.764167 250.581042 
Q 163.764167 251.781042 164.964167 251.781042 
z
" style="fill: #ffffff; opacity: 0.8; stroke: #cccccc; stroke-linejoin: miter"/>
    </g>
    <g id="line2d_88">
     <path d="M 166.164167 211.525729 
L 172.164167 211.525729 
L 178.164167 211.525729 
" style="fill: none; stroke: #1f77b4; stroke-opacity: 0.2; stroke-width: 0.9; stroke-linecap: square"/>
    </g>
    <g id="text_58">
     <text style="font-size: 6px; font-family: 'DejaVu Serif', serif; text-anchor: start" x="182.964167" y="213.625729" transform="rotate(-0 182.964167 213.625729)">60 ns</text>
    </g>
    <g id="line2d_89">
     <path d="M 166.164167 220.152604 
L 172.164167 220.152604 
L 178.164167 220.152604 
" style="fill: none; stroke: #1f77b4; stroke-opacity: 0.4; stroke-width: 0.9; stroke-linecap: square"/>
    </g>
    <g id="text_59">
     <text style="font-size: 6px; font-family: 'DejaVu Serif', serif; text-anchor: start" x="182.964167" y="222.252604" transform="rotate(-0 182.964167 222.252604)">120 ns</text>
    </g>
    <g id="line2d_90">
     <path d="M 166.164167 228.779479 
L 172.164167 228.779479 
L 178.164167 228.779479 
" style="fill: none; stroke: #1f77b4; stroke-opacity: 0.6; stroke-width: 0.9; stroke-linecap: square"/>
    </g>
    <g id="text_60">
     <text style="font-size: 6px; font-family: 'DejaVu Serif', serif; text-anchor: start" x="182.964167" y="230.879479" transform="rotate(-0 182.964167 230.879479)">180 ns</text>
    </g>
    <g id="line2d_91">
     <path d="M 166.164167 237.406354 
L 172.164167 237.406354 
L 178.164167 237.406354 
" style="fill: none; stroke: #1f77b4; stroke-opacity: 0.8; stroke-width: 0.9; stroke-linecap: square"/>
    </g>
    <g id="text_61">
     <text style="font-size: 6px; font-family: 'DejaVu Serif', serif; text-anchor: start" x="182.964167" y="239.506354" transform="rotate(-0 182.964167 239.506354)">240 ns</text>
    </g>
    <g id="line2d_92">
     <path d="M 166.164167 246.033229 
L 172.164167 246.033229 
L 178.164167 246.033229 
" style="fill: none; stroke: #1f77b4; stroke-width: 0.9; stroke-linecap: square"/>
    </g>
    <g id="text_62">
     <text style="font-size: 6px; font-family: 'DejaVu Serif', serif; text-anchor: start" x="182.964167" y="248.133229" transform="rotate(-0 182.964167 248.133229)">300 ns</text>
    </g>
   </g>
  </g>
  <g id="axes_5">
   <g id="patch_26">
    <path d="M 223 353.333333 
L 375.666667 353.333333 
L 375.666667 203.666667 
L 223 203.666667 
z
" style="fill: #ffffff"/>
   </g>
   <g id="matplotlib.axis_9">
    <g id="xtick_21">
     <g id="line2d_93">
      <g>
       <use href="#m1504cfccaf" x="237.649832" y="353.333333" style="stroke: #000000; stroke-width: 0.8"/>
      </g>
     </g>
     <g id="text_63">
      <text style="font-size: 10px; font-family: 'DejaVu Serif', serif; text-anchor: middle" x="237.649832" y="367.931771" transform="rotate(-0 237.649832 367.931771)">−40</text>
     </g>
    </g>
    <g id="xtick_22">
     <g id="line2d_94">
      <g>
       <use href="#m1504cfccaf" x="268.491582" y="353.333333" style="stroke: #000000; stroke-width: 0.8"/>
      </g>
     </g>
     <g id="text_64">
      <text style="font-size: 10px; font-family: 'DejaVu Serif', serif; text-anchor: middle" x="268.491582" y="367.931771" transform="rotate(-0 268.491582 367.931771)">−20</text>
     </g>
    </g>
    <g id="xtick_23">
     <g id="line2d_95">
      <g>
       <use href="#m1504cfccaf" x="299.333333" y="353.333333" style="stroke: #000000; stroke-width: 0.8"/>
      </g>
     </g>
     <g id="text_65">
      <text style="font-size: 10px; font-family: 'DejaVu Serif', serif; text-anchor: middle" x="299.333333" y="367.931771" transform="rotate(-0 299.333333 367.931771)">0</text>
     </g>
    </g>
    <g id="xtick_24">
     <g id="line2d_96">
      <g>
       <use href="#m1504cfccaf" x="330.175084" y="353.333333" style="stroke: #000000; stroke-width: 0.8"/>
      </g>
     </g>
     <g id="text_66">
      <text style="font-size: 10px; font-family: 'DejaVu Serif', serif; text-anchor: middle" x="330.175084" y="367.931771" transform="rotate(-0 330.175084 367.931771)">20</text>
     </g>
    </g>
    <g id="xtick_25">
     <g id="line2d_97">
      <g>
       <use href="#m1504cfccaf" x="361.016835" y="353.333333" style="stroke: #000000; stroke-width: 0.8"/>
      </g>
     </g>
     <g id="text_67">
      <text style="font-size: 10px; font-family: 'DejaVu Serif', serif; text-anchor: middle" x="361.016835" y="367.931771" transform="rotate(-0 361.016835 367.931771)">40</text>
     </g>
    </g>
    <g id="text_68">
     
     <g transform="translate(237.749389 383.961771)">
      <text xml:space="preserve"><tspan x="0 7.651 13.672 16.87 20.068 25.986 31.587 35.605 38.804 44.453 50.371 53.55 59.199 65.161 69.941 73.14 79.102 85.503 88.701 94.619 97.798" y="-0.71875" style="font-size: 10px; font-family: 'DejaVu Serif', serif">Collective variable, </tspan><tspan x="100.977" y="-0.71875" style="font-style: oblique; font-size: 10px; font-family: 'DejaVu Sans', sans-serif">z</tspan><tspan x="106.226" y="-0.71875" style="font-size: 10px; font-family: 'DejaVu Serif', serif"> </tspan><tspan x="109.404 113.306 120.146" y="-0.71875" style="font-size: 10px; font-family: 'DejaVu Sans', sans-serif">(Å)</tspan></text>
     </g>
    </g>
   </g>
   <g id="matplotlib.axis_10">
    <g id="ytick_33">
     <g id="line2d_98">
      <g>
       <use href="#m5d545ce8f8" x="223" y="353.333333" style="stroke: #000000; stroke-width: 0.8"/>
      </g>
     </g>
    </g>
    <g id="ytick_34">
     <g id="line2d_99">
      <g>
       <use href="#m5d545ce8f8" x="223" y="331.952381" style="stroke: #000000; stroke-width: 0.8"/>
      </g>
     </g>
    </g>
    <g id="ytick_35">
     <g id="line2d_100">
      <g>
       <use href="#m5d545ce8f8" x="223" y="310.571429" style="stroke: #000000; stroke-width: 0.8"/>
      </g>
     </g>
    </g>
    <g id="ytick_36">
     <g id="line2d_101">
      <g>
       <use href="#m5d545ce8f8" x="223" y="289.190476" style="stroke: #000000; stroke-width: 0.8"/>
      </g>
     </g>
    </g>
    <g id="ytick_37">
     <g id="line2d_102">
      <g>
       <use href="#m5d545ce8f8" x="223" y="267.809524" style="stroke: #000000; stroke-width: 0.8"/>
      </g>
     </g>
    </g>
    <g id="ytick_38">
     <g id="line2d_103">
      <g>
       <use href="#m5d545ce8f8" x="223" y="246.428571" style="stroke: #000000; stroke-width: 0.8"/>
      </g>
     </g>
    </g>
    <g id="ytick_39">
     <g id="line2d_104">
      <g>
       <use href="#m5d545ce8f8" x="223" y="225.047619" style="stroke: #000000; stroke-width: 0.8"/>
      </g>
     </g>
    </g>
    <g id="ytick_40">
     <g id="line2d_105">
      <g>
       <use href="#m5d545ce8f8" x="223" y="203.666667" style="stroke: #000000; stroke-width: 0.8"/>
      </g>
     </g>
    </g>
   </g>
   <g id="line2d_106">
    <path d="M 229.939394 332.16619 
L 238.806397 332.062642 
L 245.360269 332.148341 
L 247.673401 332.401259 
L 249.60101 332.996219 
L 251.143098 333.640698 
L 252.685185 334.202969 
L 254.227273 334.585476 
L 254.998316 334.615629 
L 256.154882 334.357521 
L 257.69697 333.747784 
L 258.853535 332.99937 
L 259.624579 332.355828 
L 260.781145 330.984997 
L 261.93771 329.292184 
L 263.094276 327.141667 
L 263.86532 325.327867 
L 265.021886 322.06909 
L 266.178451 318.214967 
L 267.335017 313.736423 
L 268.106061 310.040834 
L 273.503367 281.228597 
L 278.12963 258.012853 
L 278.515152 257.340253 
L 278.900673 258.314365 
L 281.984848 275.383123 
L 283.141414 279.993541 
L 284.29798 283.498429 
L 285.454545 286.153482 
L 289.309764 294.662053 
L 291.622896 299.225824 
L 292.393939 300.096393 
L 293.550505 301.056139 
L 294.707071 301.663597 
L 296.249158 302.206336 
L 297.405724 302.355025 
L 299.718855 302.441702 
L 302.031987 302.281651 
L 303.188552 301.976842 
L 304.73064 301.29659 
L 305.887205 300.453952 
L 306.658249 299.703975 
L 307.429293 298.58337 
L 310.513468 292.305261 
L 312.055556 288.834657 
L 314.754209 282.427618 
L 315.910774 278.614316 
L 316.681818 275.383123 
L 317.838384 269.491937 
L 319.765993 258.314365 
L 320.151515 257.340253 
L 320.537037 258.012853 
L 321.308081 261.955797 
L 322.850168 269.838109 
L 329.018519 301.366151 
L 330.946128 311.986285 
L 332.102694 316.806669 
L 333.644781 322.06909 
L 335.186869 326.2837 
L 336.343434 328.631051 
L 337.5 330.456699 
L 338.656566 331.946772 
L 339.427609 332.700714 
L 340.584175 333.526234 
L 341.740741 334.090476 
L 343.282828 334.562964 
L 344.053872 334.621546 
L 345.210438 334.424792 
L 347.138047 333.811129 
L 349.8367 332.738199 
L 351.378788 332.323927 
L 353.691919 332.124124 
L 356.776094 332.059335 
L 368.727273 332.16619 
L 368.727273 332.16619 
" clip-path="url(#p4626535d7a)" style="fill: none; stroke: #1f77b4; stroke-opacity: 0.2; stroke-width: 0.9; stroke-linecap: square"/>
   </g>
   <g id="line2d_107">
    <path d="M 229.939394 332.16619 
L 238.806397 332.062642 
L 245.360269 332.148341 
L 247.673401 332.401259 
L 249.60101 332.996219 
L 251.143098 333.640698 
L 252.685185 334.202969 
L 254.227273 334.585476 
L 254.998316 334.615629 
L 256.154882 334.357521 
L 257.69697 333.747784 
L 258.853535 332.99937 
L 259.624579 332.355828 
L 260.781145 330.984997 
L 261.93771 329.292184 
L 263.094276 327.141667 
L 263.86532 325.327867 
L 265.021886 322.06909 
L 266.178451 318.214967 
L 267.335017 313.736423 
L 268.106061 310.040834 
L 273.117845 283.307709 
L 275.816498 270.546835 
L 278.12963 259.70935 
L 278.515152 259.046569 
L 278.900673 259.977229 
L 281.599327 274.368772 
L 282.755892 279.375729 
L 283.912458 283.360541 
L 285.069024 286.561029 
L 286.996633 291.566447 
L 288.924242 296.334672 
L 291.622896 302.339355 
L 292.393939 303.356177 
L 293.550505 304.488814 
L 294.321549 305.000114 
L 295.863636 305.675284 
L 297.020202 305.931762 
L 299.333333 306.081429 
L 301.260943 305.969062 
L 302.417508 305.790417 
L 303.574074 305.372518 
L 304.73064 304.770844 
L 305.501684 304.157024 
L 306.658249 302.893122 
L 307.429293 301.617216 
L 309.742424 296.334672 
L 311.670034 291.566447 
L 315.139731 282.118571 
L 316.296296 277.832828 
L 317.452862 272.508105 
L 318.994949 264.40649 
L 319.765993 259.977229 
L 320.151515 259.046569 
L 320.537037 259.70935 
L 321.308081 263.439454 
L 322.464646 268.8033 
L 325.1633 281.421036 
L 327.861953 295.083299 
L 331.717172 315.327989 
L 333.259259 320.854939 
L 334.415825 324.294889 
L 335.572391 327.141667 
L 336.728956 329.292184 
L 337.885522 330.984997 
L 339.042088 332.355828 
L 340.198653 333.275653 
L 341.355219 333.936975 
L 342.897306 334.473334 
L 343.66835 334.615629 
L 344.439394 334.585476 
L 345.981481 334.202969 
L 347.523569 333.640698 
L 349.451178 332.867474 
L 351.378788 332.323927 
L 353.691919 332.124124 
L 356.776094 332.059335 
L 368.727273 332.16619 
L 368.727273 332.16619 
" clip-path="url(#p4626535d7a)" style="fill: none; stroke: #1f77b4; stroke-opacity: 0.4; stroke-width: 0.9; stroke-linecap: square"/>
   </g>
   <g id="line2d_108">
    <path d="M 229.939394 332.16619 
L 238.806397 332.062642 
L 245.360269 332.148341 
L 247.673401 332.401259 
L 249.60101 332.996219 
L 251.143098 333.640698 
L 252.685185 334.202969 
L 254.227273 334.585476 
L 254.998316 334.615629 
L 256.154882 334.357521 
L 257.69697 333.747784 
L 258.853535 332.99937 
L 259.624579 332.355828 
L 260.781145 330.984997 
L 261.93771 329.292184 
L 263.094276 327.141667 
L 263.86532 325.327867 
L 265.021886 322.06909 
L 266.178451 318.214967 
L 267.335017 313.736423 
L 268.106061 310.040834 
L 273.117845 283.246302 
L 275.430976 272.274613 
L 278.12963 260.236554 
L 278.515152 259.578059 
L 278.900673 260.477123 
L 281.599327 274.294994 
L 282.755892 279.277745 
L 283.912458 283.384891 
L 285.069024 286.767954 
L 290.080808 299.726051 
L 291.622896 303.206463 
L 292.393939 304.284682 
L 293.550505 305.499813 
L 294.321549 306.053426 
L 295.863636 306.784087 
L 297.020202 307.074752 
L 299.333333 307.257381 
L 301.260943 307.121402 
L 302.417508 306.911465 
L 303.574074 306.455148 
L 304.73064 305.804627 
L 305.501684 305.142524 
L 306.658249 303.79121 
L 307.429293 302.453321 
L 309.742424 297.024917 
L 311.670034 292.100971 
L 315.139731 282.093439 
L 316.296296 277.714489 
L 317.838384 270.633298 
L 319.765993 260.477123 
L 320.151515 259.578059 
L 320.537037 260.236554 
L 321.308081 263.856764 
L 322.464646 268.934888 
L 324.392256 277.609981 
L 327.090909 291.036051 
L 329.40404 303.549941 
L 330.946128 311.986285 
L 332.102694 316.806669 
L 333.644781 322.06909 
L 335.186869 326.2837 
L 336.343434 328.631051 
L 337.5 330.456699 
L 338.656566 331.946772 
L 339.427609 332.700714 
L 340.584175 333.526234 
L 341.740741 334.090476 
L 343.282828 334.562964 
L 344.053872 334.621546 
L 345.210438 334.424792 
L 347.138047 333.811129 
L 349.8367 332.738199 
L 351.378788 332.323927 
L 353.691919 332.124124 
L 356.776094 332.059335 
L 368.727273 332.16619 
L 368.727273 332.16619 
" clip-path="url(#p4626535d7a)" style="fill: none; stroke: #1f77b4; stroke-opacity: 0.6; stroke-width: 0.9; stroke-linecap: square"/>
   </g>
   <g id="line2d_109">
    <path d="M 229.939394 332.16619 
L 238.806397 332.062642 
L 245.360269 332.148341 
L 247.673401 332.401259 
L 249.60101 332.996219 
L 251.143098 333.640698 
L 252.685185 334.202969 
L 254.227273 334.585476 
L 254.998316 334.615629 
L 256.154882 334.357521 
L 257.69697 333.747784 
L 258.853535 332.99937 
L 259.624579 332.355828 
L 260.781145 330.984997 
L 261.93771 329.292184 
L 263.094276 327.141667 
L 263.86532 325.327867 
L 265.021886 322.06909 
L 266.178451 318.214967 
L 267.335017 313.736423 
L 268.106061 310.040834 
L 273.117845 283.345695 
L 275.430976 272.504155 
L 278.12963 260.55654 
L 278.515152 259.898672 
L 278.900673 260.796636 
L 281.599327 274.581883 
L 282.755892 279.543575 
L 283.912458 283.629868 
L 285.069024 286.995365 
L 286.996633 292.31478 
L 288.924242 297.352987 
L 291.622896 303.762981 
L 292.393939 304.909033 
L 293.550505 306.208334 
L 294.321549 306.795033 
L 295.863636 307.537431 
L 297.020202 307.82754 
L 299.333333 308.005714 
L 301.260943 307.873345 
L 302.417508 307.665078 
L 303.574074 307.205976 
L 304.73064 306.53264 
L 305.501684 305.826625 
L 306.658249 304.38217 
L 307.429293 302.975314 
L 310.127946 296.385676 
L 312.055556 291.231634 
L 315.139731 282.345154 
L 316.296296 277.987468 
L 317.838384 270.932818 
L 319.765993 260.796636 
L 320.151515 259.898672 
L 320.537037 260.55654 
L 321.308081 264.164656 
L 322.464646 269.202109 
L 324.392256 277.774792 
L 327.090909 291.064973 
L 329.40404 303.549941 
L 330.946128 311.986285 
L 332.102694 316.806669 
L 333.644781 322.06909 
L 335.186869 326.2837 
L 336.343434 328.631051 
L 337.5 330.456699 
L 338.656566 331.946772 
L 339.427609 332.700714 
L 340.584175 333.526234 
L 341.740741 334.090476 
L 343.282828 334.562964 
L 344.053872 334.621546 
L 345.210438 334.424792 
L 347.138047 333.811129 
L 349.8367 332.738199 
L 351.378788 332.323927 
L 353.691919 332.124124 
L 356.776094 332.059335 
L 368.727273 332.16619 
L 368.727273 332.16619 
" clip-path="url(#p4626535d7a)" style="fill: none; stroke: #1f77b4; stroke-opacity: 0.8; stroke-width: 0.9; stroke-linecap: square"/>
   </g>
   <g id="line2d_110">
    <path d="M 229.939394 332.16619 
L 238.806397 332.062642 
L 245.360269 332.148341 
L 247.673401 332.401259 
L 249.60101 332.996219 
L 251.143098 333.640698 
L 252.685185 334.202969 
L 254.227273 334.585476 
L 254.998316 334.615629 
L 256.154882 334.357521 
L 257.69697 333.747784 
L 258.853535 332.99937 
L 259.624579 332.355828 
L 260.781145 330.984997 
L 261.93771 329.292184 
L 263.094276 327.141667 
L 263.86532 325.327867 
L 265.021886 322.06909 
L 266.178451 318.214967 
L 267.335017 313.736423 
L 268.106061 310.040834 
L 273.117845 283.411957 
L 275.430976 272.657182 
L 278.12963 260.769864 
L 278.515152 260.112381 
L 278.900673 261.009245 
L 281.599327 274.761867 
L 282.755892 279.702501 
L 283.912458 283.76794 
L 285.069024 287.115871 
L 286.996633 292.421685 
L 289.309764 298.565792 
L 291.622896 304.167093 
L 292.393939 305.35134 
L 293.550505 306.701595 
L 294.321549 307.317024 
L 295.863636 308.108703 
L 297.020202 308.433333 
L 298.947811 308.63927 
L 300.489899 308.583249 
L 302.031987 308.357838 
L 303.188552 307.942226 
L 304.345118 307.317024 
L 305.116162 306.701595 
L 306.272727 305.35134 
L 307.043771 304.167093 
L 307.814815 302.436276 
L 311.670034 292.421685 
L 315.139731 282.489964 
L 316.296296 278.153542 
L 317.838384 271.125434 
L 319.765993 261.009245 
L 320.151515 260.112381 
L 320.537037 260.769864 
L 321.308081 264.369918 
L 322.464646 269.380256 
L 324.392256 277.884666 
L 327.090909 291.084254 
L 329.40404 303.549941 
L 330.946128 311.986285 
L 332.102694 316.806669 
L 333.644781 322.06909 
L 335.186869 326.2837 
L 336.343434 328.631051 
L 337.5 330.456699 
L 338.656566 331.946772 
L 339.427609 332.700714 
L 340.584175 333.526234 
L 341.740741 334.090476 
L 343.282828 334.562964 
L 344.053872 334.621546 
L 345.210438 334.424792 
L 347.138047 333.811129 
L 349.8367 332.738199 
L 351.378788 332.323927 
L 353.691919 332.124124 
L 356.776094 332.059335 
L 368.727273 332.16619 
L 368.727273 332.16619 
" clip-path="url(#p4626535d7a)" style="fill: none; stroke: #1f77b4; stroke-width: 0.9; stroke-linecap: square"/>
   </g>
   <g id="patch_27">
    <path d="M 223 353.333333 
L 223 203.666667 
" style="fill: none; stroke: #000000; stroke-width: 0.8; stroke-linejoin: miter; stroke-linecap: square"/>
   </g>
   <g id="patch_28">
    <path d="M 375.666667 353.333333 
L 375.666667 203.666667 
" style="fill: none; stroke: #000000; stroke-width: 0.8; stroke-linejoin: miter; stroke-linecap: square"/>
   </g>
   <g id="patch_29">
    <path d="M 223 353.333333 
L 375.666667 353.333333 
" style="fill: none; stroke: #000000; stroke-width: 0.8; stroke-linejoin: miter; stroke-linecap: square"/>
   </g>
   <g id="patch_30">
    <path d="M 223 203.666667 
L 375.666667 203.666667 
" style="fill: none; stroke: #000000; stroke-width: 0.8; stroke-linejoin: miter; stroke-linecap: square"/>
   </g>
   <g id="legend_5">
    <g id="patch_31">
     <path d="M 331.964167 251.781042 
L 371.466667 251.781042 
Q 372.666667 251.781042 372.666667 250.581042 
L 372.666667 207.866667 
Q 372.666667 206.666667 371.466667 206.666667 
L 331.964167 206.666667 
Q 330.764167 206.666667 330.764167 207.866667 
L 330.764167 250.581042 
Q 330.764167 251.781042 331.964167 251.781042 
z
" style="fill: #ffffff; opacity: 0.8; stroke: #cccccc; stroke-linejoin: miter"/>
    </g>
    <g id="line2d_111">
     <path d="M 333.164167 211.525729 
L 339.164167 211.525729 
L 345.164167 211.525729 
" style="fill: none; stroke: #1f77b4; stroke-opacity: 0.2; stroke-width: 0.9; stroke-linecap: square"/>
    </g>
    <g id="text_69">
     <text style="font-size: 6px; font-family: 'DejaVu Serif', serif; text-anchor: start" x="349.964167" y="213.625729" transform="rotate(-0 349.964167 213.625729)">120 ns</text>
    </g>
    <g id="line2d_112">
     <path d="M 333.164167 220.152604 
L 339.164167 220.152604 
L 345.164167 220.152604 
" style="fill: none; stroke: #1f77b4; stroke-opacity: 0.4; stroke-width: 0.9; stroke-linecap: square"/>
    </g>
    <g id="text_70">
     <text style="font-size: 6px; font-family: 'DejaVu Serif', serif; text-anchor: start" x="349.964167" y="222.252604" transform="rotate(-0 349.964167 222.252604)">240 ns</text>
    </g>
    <g id="line2d_113">
     <path d="M 333.164167 228.779479 
L 339.164167 228.779479 
L 345.164167 228.779479 
" style="fill: none; stroke: #1f77b4; stroke-opacity: 0.6; stroke-width: 0.9; stroke-linecap: square"/>
    </g>
    <g id="text_71">
     <text style="font-size: 6px; font-family: 'DejaVu Serif', serif; text-anchor: start" x="349.964167" y="230.879479" transform="rotate(-0 349.964167 230.879479)">360 ns</text>
    </g>
    <g id="line2d_114">
     <path d="M 333.164167 237.406354 
L 339.164167 237.406354 
L 345.164167 237.406354 
" style="fill: none; stroke: #1f77b4; stroke-opacity: 0.8; stroke-width: 0.9; stroke-linecap: square"/>
    </g>
    <g id="text_72">
     <text style="font-size: 6px; font-family: 'DejaVu Serif', serif; text-anchor: start" x="349.964167" y="239.506354" transform="rotate(-0 349.964167 239.506354)">480 ns</text>
    </g>
    <g id="line2d_115">
     <path d="M 333.164167 246.033229 
L 339.164167 246.033229 
L 345.164167 246.033229 
" style="fill: none; stroke: #1f77b4; stroke-width: 0.9; stroke-linecap: square"/>
    </g>
    <g id="text_73">
     <text style="font-size: 6px; font-family: 'DejaVu Serif', serif; text-anchor: start" x="349.964167" y="248.133229" transform="rotate(-0 349.964167 248.133229)">600 ns</text>
    </g>
   </g>
  </g>
  <g id="axes_6">
   <g id="patch_32">
    <path d="M 390.333333 353.333333 
L 543 353.333333 
L 543 203.666667 
L 390.333333 203.666667 
z
" style="fill: #ffffff"/>
   </g>
   <g id="matplotlib.axis_11">
    <g id="xtick_26">
     <g id="line2d_116">
      <g>
       <use href="#m1504cfccaf" x="404.983165" y="353.333333" style="stroke: #000000; stroke-width: 0.8"/>
      </g>
     </g>
     <g id="text_74">
      <text style="font-size: 10px; font-family: 'DejaVu Serif', serif; text-anchor: middle" x="404.983165" y="367.931771" transform="rotate(-0 404.983165 367.931771)">−40</text>
     </g>
    </g>
    <g id="xtick_27">
     <g id="line2d_117">
      <g>
       <use href="#m1504cfccaf" x="435.824916" y="353.333333" style="stroke: #000000; stroke-width: 0.8"/>
      </g>
     </g>
     <g id="text_75">
      <text style="font-size: 10px; font-family: 'DejaVu Serif', serif; text-anchor: middle" x="435.824916" y="367.931771" transform="rotate(-0 435.824916 367.931771)">−20</text>
     </g>
    </g>
    <g id="xtick_28">
     <g id="line2d_118">
      <g>
       <use href="#m1504cfccaf" x="466.666667" y="353.333333" style="stroke: #000000; stroke-width: 0.8"/>
      </g>
     </g>
     <g id="text_76">
      <text style="font-size: 10px; font-family: 'DejaVu Serif', serif; text-anchor: middle" x="466.666667" y="367.931771" transform="rotate(-0 466.666667 367.931771)">0</text>
     </g>
    </g>
    <g id="xtick_29">
     <g id="line2d_119">
      <g>
       <use href="#m1504cfccaf" x="497.508418" y="353.333333" style="stroke: #000000; stroke-width: 0.8"/>
      </g>
     </g>
     <g id="text_77">
      <text style="font-size: 10px; font-family: 'DejaVu Serif', serif; text-anchor: middle" x="497.508418" y="367.931771" transform="rotate(-0 497.508418 367.931771)">20</text>
     </g>
    </g>
    <g id="xtick_30">
     <g id="line2d_120">
      <g>
       <use href="#m1504cfccaf" x="528.350168" y="353.333333" style="stroke: #000000; stroke-width: 0.8"/>
      </g>
     </g>
     <g id="text_78">
      <text style="font-size: 10px; font-family: 'DejaVu Serif', serif; text-anchor: middle" x="528.350168" y="367.931771" transform="rotate(-0 528.350168 367.931771)">40</text>
     </g>
    </g>
    <g id="text_79">
     
     <g transform="translate(405.082723 383.961771)">
      <text xml:space="preserve"><tspan x="0 7.651 13.672 16.87 20.068 25.986 31.587 35.605 38.804 44.453 50.371 53.55 59.199 65.161 69.941 73.14 79.102 85.503 88.701 94.619 97.798" y="-0.71875" style="font-size: 10px; font-family: 'DejaVu Serif', serif">Collective variable, </tspan><tspan x="100.977" y="-0.71875" style="font-style: oblique; font-size: 10px; font-family: 'DejaVu Sans', sans-serif">z</tspan><tspan x="106.226" y="-0.71875" style="font-size: 10px; font-family: 'DejaVu Serif', serif"> </tspan><tspan x="109.404 113.306 120.146" y="-0.71875" style="font-size: 10px; font-family: 'DejaVu Sans', sans-serif">(Å)</tspan></text>
     </g>
    </g>
   </g>
   <g id="matplotlib.axis_12">
    <g id="ytick_41">
     <g id="line2d_121">
      <g>
       <use href="#m5d545ce8f8" x="390.333333" y="353.333333" style="stroke: #000000; stroke-width: 0.8"/>
      </g>
     </g>
    </g>
    <g id="ytick_42">
     <g id="line2d_122">
      <g>
       <use href="#m5d545ce8f8" x="390.333333" y="331.952381" style="stroke: #000000; stroke-width: 0.8"/>
      </g>
     </g>
    </g>
    <g id="ytick_43">
     <g id="line2d_123">
      <g>
       <use href="#m5d545ce8f8" x="390.333333" y="310.571429" style="stroke: #000000; stroke-width: 0.8"/>
      </g>
     </g>
    </g>
    <g id="ytick_44">
     <g id="line2d_124">
      <g>
       <use href="#m5d545ce8f8" x="390.333333" y="289.190476" style="stroke: #000000; stroke-width: 0.8"/>
      </g>
     </g>
    </g>
    <g id="ytick_45">
     <g id="line2d_125">
      <g>
       <use href="#m5d545ce8f8" x="390.333333" y="267.809524" style="stroke: #000000; stroke-width: 0.8"/>
      </g>
     </g>
    </g>
    <g id="ytick_46">
     <g id="line2d_126">
      <g>
       <use href="#m5d545ce8f8" x="390.333333" y="246.428571" style="stroke: #000000; stroke-width: 0.8"/>
      </g>
     </g>
    </g>
    <g id="ytick_47">
     <g id="line2d_127">
      <g>
       <use href="#m5d545ce8f8" x="390.333333" y="225.047619" style="stroke: #000000; stroke-width: 0.8"/>
      </g>
     </g>
    </g>
    <g id="ytick_48">
     <g id="line2d_128">
      <g>
       <use href="#m5d545ce8f8" x="390.333333" y="203.666667" style="stroke: #000000; stroke-width: 0.8"/>
      </g>
     </g>
    </g>
   </g>
   <g id="line2d_129">
    <path d="M 397.272727 331.845476 
L 409.994949 331.937654 
L 411.151515 332.098166 
L 412.693603 332.59381 
L 413.850168 333.210032 
L 415.006734 334.090476 
L 416.1633 335.290258 
L 417.705387 337.299077 
L 420.018519 340.677866 
L 421.175084 342.047246 
L 422.33165 342.894433 
L 423.102694 343.290872 
L 423.873737 343.376047 
L 424.644781 343.137609 
L 425.801347 342.429048 
L 426.186869 342.059625 
L 426.957912 340.844561 
L 428.114478 338.366667 
L 428.885522 336.390617 
L 430.042088 332.676841 
L 431.584175 326.830274 
L 432.355219 323.190906 
L 433.897306 315.265628 
L 434.66835 312.277873 
L 435.824916 308.590545 
L 437.367003 304.443968 
L 438.909091 300.903337 
L 440.065657 298.646125 
L 441.607744 295.855482 
L 443.149832 292.270211 
L 444.306397 289.190476 
L 445.462963 285.384721 
L 445.848485 284.81685 
L 446.619529 284.229428 
L 447.005051 284.169795 
L 447.390572 284.294437 
L 448.161616 284.939408 
L 448.547138 285.384332 
L 448.93266 286.071449 
L 449.703704 288.18209 
L 450.089226 289.639049 
L 451.631313 298.919357 
L 452.787879 305.513956 
L 455.10101 316.354157 
L 455.872054 319.744845 
L 456.643098 322.239292 
L 458.185185 326.193046 
L 460.883838 332.990905 
L 462.040404 334.950999 
L 463.19697 336.462842 
L 463.968013 337.110325 
L 465.124579 337.730422 
L 466.281145 338.120652 
L 467.052189 338.120652 
L 467.823232 337.897828 
L 469.36532 337.110325 
L 470.136364 336.462842 
L 470.907407 335.515422 
L 472.063973 333.700517 
L 472.835017 332.189793 
L 473.991582 329.262846 
L 475.919192 324.271888 
L 477.075758 321.085154 
L 477.846801 318.134169 
L 480.930976 303.509878 
L 483.62963 288.18209 
L 484.400673 286.071449 
L 484.786195 285.384332 
L 485.557239 284.564668 
L 485.942761 284.294437 
L 486.328283 284.169795 
L 486.713805 284.229428 
L 487.484848 284.81685 
L 487.87037 285.384721 
L 488.641414 287.93029 
L 489.412458 290.24215 
L 490.954545 294.141515 
L 492.111111 296.641762 
L 494.809764 301.733142 
L 496.351852 305.425512 
L 497.893939 309.74773 
L 499.050505 313.671667 
L 499.821549 317.104028 
L 501.749158 326.830274 
L 503.291246 332.676841 
L 504.447811 336.390617 
L 505.604377 339.232427 
L 506.760943 341.519568 
L 507.531987 342.429048 
L 508.688552 343.137609 
L 509.459596 343.376047 
L 510.23064 343.290872 
L 511.001684 342.894433 
L 512.158249 342.047246 
L 513.314815 340.677866 
L 514.856902 338.49182 
L 516.39899 336.261042 
L 517.941077 334.440832 
L 519.097643 333.48203 
L 520.254209 332.760016 
L 521.796296 332.200331 
L 522.952862 331.965082 
L 526.037037 331.845476 
L 536.060606 331.845476 
L 536.060606 331.845476 
" clip-path="url(#p47584c9811)" style="fill: none; stroke: #1f77b4; stroke-opacity: 0.2; stroke-width: 0.9; stroke-linecap: square"/>
   </g>
   <g id="line2d_130">
    <path d="M 397.272727 331.845476 
L 409.994949 331.937654 
L 411.151515 332.098166 
L 412.693603 332.59381 
L 413.850168 333.210032 
L 415.006734 334.090476 
L 416.1633 335.290258 
L 417.705387 337.299077 
L 420.018519 340.677866 
L 421.175084 342.047246 
L 422.33165 342.894433 
L 423.102694 343.290872 
L 423.873737 343.376047 
L 424.644781 343.137609 
L 425.801347 342.429048 
L 426.186869 342.059625 
L 426.957912 340.844561 
L 428.114478 338.366667 
L 428.885522 336.390617 
L 430.042088 332.676841 
L 431.584175 326.830274 
L 432.355219 323.190906 
L 433.897306 315.265628 
L 434.66835 312.277873 
L 435.824916 308.590545 
L 437.367003 304.443968 
L 438.909091 300.903337 
L 440.065657 298.646125 
L 441.607744 295.897396 
L 443.149832 292.45781 
L 444.306397 289.51119 
L 445.462963 285.922374 
L 445.848485 285.436836 
L 446.619529 284.965005 
L 447.005051 284.917363 
L 447.390572 285.017448 
L 448.161616 285.539535 
L 448.547138 285.904808 
L 448.93266 286.512581 
L 449.703704 288.502804 
L 450.089226 289.924772 
L 451.631313 299.107812 
L 452.787879 305.64109 
L 454.715488 314.459446 
L 455.872054 319.459236 
L 456.643098 321.740364 
L 457.799663 324.31589 
L 461.26936 330.984988 
L 462.811448 332.910839 
L 463.582492 333.614783 
L 464.353535 334.090476 
L 465.895623 334.725318 
L 466.666667 334.83881 
L 467.43771 334.725318 
L 468.594276 334.271722 
L 469.750842 333.614783 
L 470.521886 332.910839 
L 471.678451 331.508434 
L 472.449495 330.401261 
L 473.606061 328.21161 
L 476.690236 321.740364 
L 477.461279 319.459236 
L 478.617845 314.459446 
L 480.930976 303.658717 
L 483.62963 288.502804 
L 484.400673 286.512581 
L 484.786195 285.904808 
L 485.557239 285.235419 
L 486.328283 284.917363 
L 486.713805 284.965005 
L 487.484848 285.436836 
L 487.87037 285.922374 
L 488.641414 288.307623 
L 489.412458 290.518707 
L 490.954545 294.247586 
L 492.496633 297.358345 
L 494.038721 300.108211 
L 495.580808 303.502123 
L 497.122896 307.491392 
L 498.279461 310.973367 
L 499.436027 315.265628 
L 500.592593 321.156162 
L 501.749158 326.830274 
L 503.291246 332.676841 
L 504.447811 336.390617 
L 505.604377 339.232427 
L 506.760943 341.519568 
L 507.531987 342.429048 
L 508.688552 343.137609 
L 509.459596 343.376047 
L 510.23064 343.290872 
L 511.001684 342.894433 
L 512.158249 342.047246 
L 513.314815 340.677866 
L 514.856902 338.49182 
L 516.39899 336.261042 
L 517.941077 334.440832 
L 519.097643 333.48203 
L 520.254209 332.760016 
L 521.796296 332.200331 
L 522.952862 331.965082 
L 526.037037 331.845476 
L 536.060606 331.845476 
L 536.060606 331.845476 
" clip-path="url(#p47584c9811)" style="fill: none; stroke: #1f77b4; stroke-opacity: 0.4; stroke-width: 0.9; stroke-linecap: square"/>
   </g>
   <g id="line2d_131">
    <path d="M 397.272727 331.845476 
L 409.994949 331.937654 
L 411.151515 332.098166 
L 412.693603 332.59381 
L 413.850168 333.210032 
L 415.006734 334.090476 
L 416.1633 335.290258 
L 417.705387 337.299077 
L 420.018519 340.677866 
L 421.175084 342.047246 
L 422.33165 342.894433 
L 423.102694 343.290872 
L 423.873737 343.376047 
L 424.644781 343.137609 
L 425.801347 342.429048 
L 426.186869 342.059625 
L 426.957912 340.844561 
L 428.114478 338.366667 
L 428.885522 336.390617 
L 430.042088 332.676841 
L 431.584175 326.830274 
L 432.355219 323.190906 
L 433.897306 315.265628 
L 434.66835 312.277873 
L 435.824916 308.590545 
L 437.367003 304.443968 
L 438.909091 300.903337 
L 440.065657 298.646125 
L 441.607744 295.90657 
L 443.149832 292.5007 
L 444.306397 289.58792 
L 445.462963 286.110671 
L 445.848485 285.675481 
L 446.619529 285.277358 
L 447.005051 285.237526 
L 447.776094 285.500984 
L 448.547138 286.06665 
L 448.93266 286.622052 
L 449.703704 288.542336 
L 450.089226 289.950571 
L 451.631313 299.115425 
L 452.787879 305.652325 
L 454.715488 314.450312 
L 455.872054 319.416217 
L 456.643098 321.668393 
L 457.799663 324.18727 
L 461.26936 330.626094 
L 462.811448 332.492765 
L 463.582492 333.187164 
L 464.353535 333.662857 
L 465.895623 334.297699 
L 466.666667 334.41119 
L 467.43771 334.297699 
L 468.594276 333.844103 
L 469.750842 333.187164 
L 470.521886 332.492765 
L 471.678451 331.131523 
L 472.449495 330.061337 
L 473.606061 327.938621 
L 476.690236 321.668393 
L 477.461279 319.416217 
L 478.617845 314.450312 
L 480.930976 303.668623 
L 483.62963 288.542336 
L 484.400673 286.622052 
L 484.786195 286.06665 
L 485.557239 285.500984 
L 486.328283 285.237526 
L 486.713805 285.277358 
L 487.484848 285.675481 
L 487.87037 286.110671 
L 488.641414 288.407175 
L 489.412458 290.583774 
L 490.954545 294.271269 
L 492.496633 297.359436 
L 494.038721 300.108211 
L 495.580808 303.502123 
L 497.122896 307.491392 
L 498.279461 310.973367 
L 499.436027 315.265628 
L 500.592593 321.156162 
L 501.749158 326.830274 
L 503.291246 332.676841 
L 504.447811 336.390617 
L 505.604377 339.232427 
L 506.760943 341.519568 
L 507.531987 342.429048 
L 508.688552 343.137609 
L 509.459596 343.376047 
L 510.23064 343.290872 
L 511.001684 342.894433 
L 512.158249 342.047246 
L 513.314815 340.677866 
L 514.856902 338.49182 
L 516.39899 336.261042 
L 517.941077 334.440832 
L 519.097643 333.48203 
L 520.254209 332.760016 
L 521.796296 332.200331 
L 522.952862 331.965082 
L 526.037037 331.845476 
L 536.060606 331.845476 
L 536.060606 331.845476 
" clip-path="url(#p47584c9811)" style="fill: none; stroke: #1f77b4; stroke-opacity: 0.6; stroke-width: 0.9; stroke-linecap: square"/>
   </g>
   <g id="line2d_132">
    <path d="M 397.272727 331.845476 
L 409.994949 331.937654 
L 411.151515 332.098166 
L 412.693603 332.59381 
L 413.850168 333.210032 
L 415.006734 334.090476 
L 416.1633 335.290258 
L 417.705387 337.299077 
L 420.018519 340.677866 
L 421.175084 342.047246 
L 422.33165 342.894433 
L 423.102694 343.290872 
L 423.873737 343.376047 
L 424.644781 343.137609 
L 425.801347 342.429048 
L 426.186869 342.059625 
L 426.957912 340.844561 
L 428.114478 338.366667 
L 428.885522 336.390617 
L 430.042088 332.676841 
L 431.584175 326.830274 
L 432.355219 323.190906 
L 433.897306 315.265628 
L 434.66835 312.277873 
L 435.824916 308.590545 
L 437.367003 304.443968 
L 438.909091 300.903337 
L 440.065657 298.646125 
L 441.607744 295.924588 
L 443.149832 292.581126 
L 444.306397 289.725 
L 445.462963 286.296613 
L 445.848485 285.873453 
L 446.619529 285.489759 
L 447.005051 285.451301 
L 447.776094 285.710734 
L 448.547138 286.266203 
L 448.93266 286.814419 
L 449.703704 288.716614 
L 450.089226 290.114128 
L 451.631313 299.227056 
L 452.787879 305.718072 
L 454.715488 314.432909 
L 455.872054 319.342761 
L 456.643098 321.560668 
L 457.799663 324.043982 
L 461.26936 330.380547 
L 462.811448 332.183743 
L 463.968013 333.131653 
L 465.510101 333.852189 
L 466.281145 334.060207 
L 467.052189 334.060207 
L 468.208754 333.697197 
L 469.36532 333.131653 
L 470.136364 332.549284 
L 471.292929 331.336079 
L 472.449495 329.832703 
L 473.606061 327.748615 
L 476.690236 321.560668 
L 477.461279 319.342761 
L 478.617845 314.432909 
L 480.930976 303.750142 
L 483.62963 288.716614 
L 484.400673 286.814419 
L 484.786195 286.266203 
L 485.557239 285.710734 
L 486.328283 285.451301 
L 486.713805 285.489759 
L 487.484848 285.873453 
L 487.87037 286.296613 
L 488.641414 288.562129 
L 489.412458 290.702113 
L 490.954545 294.316812 
L 492.496633 297.361619 
L 494.038721 300.108211 
L 495.580808 303.502123 
L 497.122896 307.491392 
L 498.279461 310.973367 
L 499.436027 315.265628 
L 500.592593 321.156162 
L 501.749158 326.830274 
L 503.291246 332.676841 
L 504.447811 336.390617 
L 505.604377 339.232427 
L 506.760943 341.519568 
L 507.531987 342.429048 
L 508.688552 343.137609 
L 509.459596 343.376047 
L 510.23064 343.290872 
L 511.001684 342.894433 
L 512.158249 342.047246 
L 513.314815 340.677866 
L 514.856902 338.49182 
L 516.39899 336.261042 
L 517.941077 334.440832 
L 519.097643 333.48203 
L 520.254209 332.760016 
L 521.796296 332.200331 
L 522.952862 331.965082 
L 526.037037 331.845476 
L 536.060606 331.845476 
L 536.060606 331.845476 
" clip-path="url(#p47584c9811)" style="fill: none; stroke: #1f77b4; stroke-opacity: 0.8; stroke-width: 0.9; stroke-linecap: square"/>
   </g>
   <g id="line2d_133">
    <path d="M 397.272727 331.845476 
L 409.994949 331.937654 
L 411.151515 332.098166 
L 412.693603 332.59381 
L 413.850168 333.210032 
L 415.006734 334.090476 
L 416.1633 335.290258 
L 417.705387 337.299077 
L 420.018519 340.677866 
L 421.175084 342.047246 
L 422.33165 342.894433 
L 423.102694 343.290872 
L 423.873737 343.376047 
L 424.644781 343.137609 
L 425.801347 342.429048 
L 426.186869 342.059625 
L 426.957912 340.844561 
L 428.114478 338.366667 
L 428.885522 336.390617 
L 430.042088 332.676841 
L 431.584175 326.830274 
L 432.355219 323.190906 
L 433.897306 315.265628 
L 434.66835 312.277873 
L 435.824916 308.590545 
L 437.367003 304.443968 
L 438.909091 300.903337 
L 440.065657 298.646125 
L 441.607744 295.924588 
L 443.149832 292.581126 
L 444.306397 289.725 
L 445.462963 286.296613 
L 445.848485 285.873453 
L 446.619529 285.489759 
L 447.005051 285.451301 
L 447.776094 285.710734 
L 448.547138 286.266203 
L 448.93266 286.814419 
L 449.703704 288.716614 
L 450.089226 290.114128 
L 451.631313 299.227056 
L 452.787879 305.718072 
L 454.715488 314.431291 
L 455.872054 319.319376 
L 456.643098 321.511809 
L 457.799663 323.946734 
L 461.26936 330.135 
L 462.811448 331.874722 
L 463.968013 332.810939 
L 465.510101 333.531474 
L 466.281145 333.739493 
L 467.052189 333.739493 
L 468.208754 333.376483 
L 469.36532 332.810939 
L 470.136364 332.231702 
L 471.292929 331.055454 
L 472.449495 329.604069 
L 473.606061 327.564455 
L 476.690236 321.511809 
L 477.461279 319.319376 
L 478.232323 316.176174 
L 480.930976 303.750142 
L 483.62963 288.716614 
L 484.400673 286.814419 
L 484.786195 286.266203 
L 485.557239 285.710734 
L 486.328283 285.451301 
L 486.713805 285.489759 
L 487.484848 285.873453 
L 487.87037 286.296613 
L 488.641414 288.562129 
L 489.412458 290.702113 
L 490.954545 294.316812 
L 492.496633 297.361619 
L 494.038721 300.108211 
L 495.580808 303.502123 
L 497.122896 307.491392 
L 498.279461 310.973367 
L 499.436027 315.265628 
L 500.592593 321.156162 
L 501.749158 326.830274 
L 503.291246 332.676841 
L 504.447811 336.390617 
L 505.604377 339.232427 
L 506.760943 341.519568 
L 507.531987 342.429048 
L 508.688552 343.137609 
L 509.459596 343.376047 
L 510.23064 343.290872 
L 511.001684 342.894433 
L 512.158249 342.047246 
L 513.314815 340.677866 
L 514.856902 338.49182 
L 516.39899 336.261042 
L 517.941077 334.440832 
L 519.097643 333.48203 
L 520.254209 332.760016 
L 521.796296 332.200331 
L 522.952862 331.965082 
L 526.037037 331.845476 
L 536.060606 331.845476 
L 536.060606 331.845476 
" clip-path="url(#p47584c9811)" style="fill: none; stroke: #1f77b4; stroke-width: 0.9; stroke-linecap: square"/>
   </g>
   <g id="patch_33">
    <path d="M 390.333333 353.333333 
L 390.333333 203.666667 
" style="fill: none; stroke: #000000; stroke-width: 0.8; stroke-linejoin: miter; stroke-linecap: square"/>
   </g>
   <g id="patch_34">
    <path d="M 543 353.333333 
L 543 203.666667 
" style="fill: none; stroke: #000000; stroke-width: 0.8; stroke-linejoin: miter; stroke-linecap: square"/>
   </g>
   <g id="patch_35">
    <path d="M 390.333333 353.333333 
L 543 353.333333 
" style="fill: none; stroke: #000000; stroke-width: 0.8; stroke-linejoin: miter; stroke-linecap: square"/>
   </g>
   <g id="patch_36">
    <path d="M 390.333333 203.666667 
L 543 203.666667 
" style="fill: none; stroke: #000000; stroke-width: 0.8; stroke-linejoin: miter; stroke-linecap: square"/>
   </g>
   <g id="legend_6">
    <g id="patch_37">
     <path d="M 499.2975 251.781042 
L 538.8 251.781042 
Q 540 251.781042 540 250.581042 
L 540 207.866667 
Q 540 206.666667 538.8 206.666667 
L 499.2975 206.666667 
Q 498.0975 206.666667 498.0975 207.866667 
L 498.0975 250.581042 
Q 498.0975 251.781042 499.2975 251.781042 
z
" style="fill: #ffffff; opacity: 0.8; stroke: #cccccc; stroke-linejoin: miter"/>
    </g>
    <g id="line2d_134">
     <path d="M 500.4975 211.525729 
L 506.4975 211.525729 
L 512.4975 211.525729 
" style="fill: none; stroke: #1f77b4; stroke-opacity: 0.2; stroke-width: 0.9; stroke-linecap: square"/>
    </g>
    <g id="text_80">
     <text style="font-size: 6px; font-family: 'DejaVu Serif', serif; text-anchor: start" x="517.2975" y="213.625729" transform="rotate(-0 517.2975 213.625729)">120 ns</text>
    </g>
    <g id="line2d_135">
     <path d="M 500.4975 220.152604 
L 506.4975 220.152604 
L 512.4975 220.152604 
" style="fill: none; stroke: #1f77b4; stroke-opacity: 0.4; stroke-width: 0.9; stroke-linecap: square"/>
    </g>
    <g id="text_81">
     <text style="font-size: 6px; font-family: 'DejaVu Serif', serif; text-anchor: start" x="517.2975" y="222.252604" transform="rotate(-0 517.2975 222.252604)">240 ns</text>
    </g>
    <g id="line2d_136">
     <path d="M 500.4975 228.779479 
L 506.4975 228.779479 
L 512.4975 228.779479 
" style="fill: none; stroke: #1f77b4; stroke-opacity: 0.6; stroke-width: 0.9; stroke-linecap: square"/>
    </g>
    <g id="text_82">
     <text style="font-size: 6px; font-family: 'DejaVu Serif', serif; text-anchor: start" x="517.2975" y="230.879479" transform="rotate(-0 517.2975 230.879479)">360 ns</text>
    </g>
    <g id="line2d_137">
     <path d="M 500.4975 237.406354 
L 506.4975 237.406354 
L 512.4975 237.406354 
" style="fill: none; stroke: #1f77b4; stroke-opacity: 0.8; stroke-width: 0.9; stroke-linecap: square"/>
    </g>
    <g id="text_83">
     <text style="font-size: 6px; font-family: 'DejaVu Serif', serif; text-anchor: start" x="517.2975" y="239.506354" transform="rotate(-0 517.2975 239.506354)">480 ns</text>
    </g>
    <g id="line2d_138">
     <path d="M 500.4975 246.033229 
L 506.4975 246.033229 
L 512.4975 246.033229 
" style="fill: none; stroke: #1f77b4; stroke-width: 0.9; stroke-linecap: square"/>
    </g>
    <g id="text_84">
     <text style="font-size: 6px; font-family: 'DejaVu Serif', serif; text-anchor: start" x="517.2975" y="248.133229" transform="rotate(-0 517.2975 248.133229)">600 ns</text>
    </g>
   </g>
  </g>
 </g>
 <defs>
  <clipPath id="p83b6f65d9d">
   <rect x="55.666667" y="26" width="153" height="149.666667"/>
  </clipPath>
  <clipPath id="p31d2f5e6c3">
   <rect x="223" y="26" width="152.666667" height="149.666667"/>
  </clipPath>
  <clipPath id="pc6bdd62112">
   <rect x="390.333333" y="26" width="152.666667" height="149.666667"/>
  </clipPath>
  <clipPath id="pe142d48d19">
   <rect x="55.666667" y="203.666667" width="153" height="149.666667"/>
  </clipPath>
  <clipPath id="p4626535d7a">
   <rect x="223" y="203.666667" width="152.666667" height="149.666667"/>
  </clipPath>
  <clipPath id="p47584c9811">
   <rect x="390.333333" y="203.666667" width="152.666667" height="149.666667"/>
  </clipPath>
 </defs>
</svg>

</body></html>
